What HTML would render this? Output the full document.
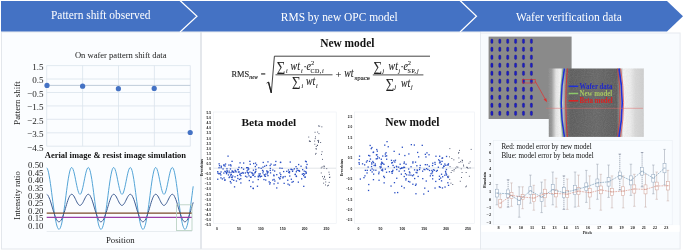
<!DOCTYPE html>
<html lang="en"><head><meta charset="utf-8"><title>OPC model verification flow</title>
<style>html,body{margin:0;padding:0;background:#fff;}body{width:685px;height:251px;overflow:hidden;}svg{display:block;}</style>
</head><body>
<svg width="685" height="251" viewBox="0 0 685 251">
<rect x="0" y="0" width="685" height="251" fill="#ffffff"/>
<rect x="1.5" y="32" width="199" height="217" fill="#fbfdff" stroke="#e3e7ec" stroke-width="1"/>
<rect x="201.5" y="32" width="279" height="217" fill="#ffffff" stroke="#e6e9ee" stroke-width="1"/>
<rect x="480.5" y="33" width="199.6" height="216" fill="#f8fbfe" stroke="#e6eaef" stroke-width="1"/>
<rect x="200.3" y="32" width="1.5" height="217" fill="#e4e7eb"/>
<polygon points="1,1 667,1 683,16.2 667,31.5 1,31.5" fill="#4472c4"/>
<polyline points="180,0.5 197,16.2 180,32" fill="none" stroke="#ffffff" stroke-width="1.2"/>
<polyline points="460,0.5 476.5,16.2 460,32" fill="none" stroke="#ffffff" stroke-width="1.2"/>
<text x="100.8" y="18.7" font-family="Liberation Serif, serif" font-size="11.43" fill="#ffffff" text-anchor="middle">Pattern shift observed</text>
<text x="339.3" y="20.6" font-family="Liberation Serif, serif" font-size="11.45" fill="#ffffff" text-anchor="middle">RMS by new OPC model</text>
<text x="568.9" y="20.7" font-family="Liberation Serif, serif" font-size="11.5" fill="#ffffff" text-anchor="middle">Wafer verification data</text>
<text x="120.7" y="58.0" font-family="Liberation Serif, serif" font-size="8.55" fill="#222" text-anchor="middle">On wafer pattern shift data</text>
<line x1="46.7" y1="65.6" x2="190.3" y2="65.6" stroke="#dbe3ec" stroke-width="0.8"/>
<line x1="46.7" y1="79.0" x2="190.3" y2="79.0" stroke="#dbe3ec" stroke-width="0.8"/>
<line x1="46.7" y1="92.5" x2="190.3" y2="92.5" stroke="#dbe3ec" stroke-width="0.8"/>
<line x1="46.7" y1="105.9" x2="190.3" y2="105.9" stroke="#dbe3ec" stroke-width="0.8"/>
<line x1="46.7" y1="119.3" x2="190.3" y2="119.3" stroke="#dbe3ec" stroke-width="0.8"/>
<line x1="46.7" y1="132.8" x2="190.3" y2="132.8" stroke="#dbe3ec" stroke-width="0.8"/>
<line x1="46.7" y1="146.2" x2="190.3" y2="146.2" stroke="#dbe3ec" stroke-width="0.8"/>
<line x1="46.7" y1="65.6" x2="46.7" y2="146.2" stroke="#dbe3ec" stroke-width="0.8"/>
<line x1="82.6" y1="65.6" x2="82.6" y2="146.2" stroke="#dbe3ec" stroke-width="0.8"/>
<line x1="118.5" y1="65.6" x2="118.5" y2="146.2" stroke="#dbe3ec" stroke-width="0.8"/>
<line x1="154.4" y1="65.6" x2="154.4" y2="146.2" stroke="#dbe3ec" stroke-width="0.8"/>
<line x1="190.3" y1="65.6" x2="190.3" y2="146.2" stroke="#dbe3ec" stroke-width="0.8"/>
<line x1="46.7" y1="85.4" x2="190.3" y2="85.4" stroke="#b9c6d6" stroke-width="0.9"/>
<text x="43.5" y="69.8" font-family="Liberation Serif, serif" font-size="9.1" fill="#222" text-anchor="end">1.5</text>
<text x="43.5" y="83.3" font-family="Liberation Serif, serif" font-size="9.1" fill="#222" text-anchor="end">0.5</text>
<text x="43.5" y="96.7" font-family="Liberation Serif, serif" font-size="9.1" fill="#222" text-anchor="end">−0.5</text>
<text x="43.5" y="110.2" font-family="Liberation Serif, serif" font-size="9.1" fill="#222" text-anchor="end">−1.5</text>
<text x="43.5" y="123.6" font-family="Liberation Serif, serif" font-size="9.1" fill="#222" text-anchor="end">−2.5</text>
<text x="43.5" y="137.1" font-family="Liberation Serif, serif" font-size="9.1" fill="#222" text-anchor="end">−3.5</text>
<text x="43.5" y="150.5" font-family="Liberation Serif, serif" font-size="9.1" fill="#222" text-anchor="end">−4.5</text>
<text transform="translate(20.4,103) rotate(-90)" font-family="Liberation Serif, serif" font-size="9" fill="#222" text-anchor="middle">Pattern shift</text>
<circle cx="47" cy="85.4" r="2.6" fill="#4472c4"/>
<circle cx="82.6" cy="86.2" r="2.6" fill="#4472c4"/>
<circle cx="118.4" cy="88.7" r="2.6" fill="#4472c4"/>
<circle cx="154.2" cy="88.4" r="2.6" fill="#4472c4"/>
<circle cx="190.2" cy="132.5" r="2.6" fill="#4472c4"/>
<text x="44.8" y="158.4" font-family="Liberation Serif, serif" font-size="8.5" font-weight="bold" fill="#111">Aerial image &amp; resist image simulation</text>
<text x="43.5" y="168.2" font-family="Liberation Serif, serif" font-size="8.8" fill="#222" text-anchor="end">0.50</text>
<text x="43.5" y="175.8" font-family="Liberation Serif, serif" font-size="8.8" fill="#222" text-anchor="end">0.45</text>
<text x="43.5" y="183.4" font-family="Liberation Serif, serif" font-size="8.8" fill="#222" text-anchor="end">0.40</text>
<text x="43.5" y="191.0" font-family="Liberation Serif, serif" font-size="8.8" fill="#222" text-anchor="end">0.35</text>
<text x="43.5" y="198.6" font-family="Liberation Serif, serif" font-size="8.8" fill="#222" text-anchor="end">0.30</text>
<text x="43.5" y="206.2" font-family="Liberation Serif, serif" font-size="8.8" fill="#222" text-anchor="end">0.25</text>
<text x="43.5" y="213.8" font-family="Liberation Serif, serif" font-size="8.8" fill="#222" text-anchor="end">0.20</text>
<text x="43.5" y="221.4" font-family="Liberation Serif, serif" font-size="8.8" fill="#222" text-anchor="end">0.15</text>
<text x="43.5" y="229.0" font-family="Liberation Serif, serif" font-size="8.8" fill="#222" text-anchor="end">0.10</text>
<text transform="translate(19.8,195.4) rotate(-90)" font-family="Liberation Serif, serif" font-size="8.7" fill="#222" text-anchor="middle">Intensity ratio</text>
<text x="120.3" y="242.8" font-family="Liberation Serif, serif" font-size="8.8" fill="#222" text-anchor="middle">Position</text>
<line x1="46.7" y1="231.5" x2="192" y2="231.5" stroke="#e3e8ee" stroke-width="0.8"/>
<polyline points="46.8,167.8 47.4,168.7 48.0,170.5 48.6,172.8 49.2,175.9 49.8,179.4 50.4,183.4 51.0,187.7 51.6,192.3 52.2,196.9 52.8,201.5 53.4,206.0 54.0,210.3 54.6,214.3 55.2,218.0 55.8,221.2 56.4,223.9 57.0,226.1 57.6,227.7 58.2,228.8 58.8,229.3 59.4,229.2 60.0,228.5 60.6,227.2 61.2,225.4 61.8,223.0 62.4,220.1 63.0,216.8 63.6,213.0 64.2,208.9 64.8,204.6 65.4,200.0 66.0,195.3 66.6,190.7 67.2,186.3 67.8,182.0 68.4,178.2 69.0,174.8 69.6,172.0 70.2,169.8 70.8,168.3 71.4,167.6 72.0,167.6 72.6,168.3 73.2,169.7 73.8,171.6 74.4,174.0 75.0,176.8 75.6,179.8 76.2,182.8 76.8,185.7 77.4,188.4 78.0,190.7 78.6,192.5 79.2,193.7 79.8,194.3 80.4,194.1 81.0,193.4 81.6,192.0 82.2,190.0 82.8,187.5 83.4,184.8 84.0,181.8 84.6,178.8 85.2,175.9 85.8,173.2 86.4,170.9 87.0,169.2 87.6,168.0 88.2,167.5 88.8,167.8 89.4,168.7 90.0,170.5 90.6,172.8 91.2,175.9 91.8,179.4 92.4,183.4 93.0,187.7 93.6,192.3 94.2,196.9 94.8,201.5 95.4,206.0 96.0,210.3 96.6,214.3 97.2,218.0 97.8,221.2 98.4,223.9 99.0,226.1 99.6,227.7 100.2,228.8 100.8,229.3 101.4,229.2 102.0,228.5 102.6,227.2 103.2,225.4 103.8,223.0 104.4,220.1 105.0,216.8 105.6,213.0 106.2,208.9 106.8,204.6 107.4,200.0 108.0,195.4 108.6,190.7 109.2,186.3 109.8,182.0 110.4,178.2 111.0,174.8 111.6,172.0 112.2,169.8 112.8,168.3 113.4,167.6 114.0,167.6 114.6,168.3 115.2,169.7 115.8,171.6 116.4,174.0 117.0,176.8 117.6,179.8 118.2,182.8 118.8,185.7 119.4,188.4 120.0,190.7 120.6,192.5 121.2,193.7 121.8,194.3 122.4,194.1 123.0,193.4 123.6,192.0 124.2,190.0 124.8,187.5 125.4,184.8 126.0,181.8 126.6,178.8 127.2,175.9 127.8,173.2 128.4,170.9 129.0,169.2 129.6,168.0 130.2,167.5 130.8,167.8 131.4,168.7 132.0,170.5 132.6,172.8 133.2,175.9 133.8,179.4 134.4,183.4 135.0,187.7 135.6,192.3 136.2,196.9 136.8,201.5 137.4,206.0 138.0,210.3 138.6,214.3 139.2,218.0 139.8,221.2 140.4,223.9 141.0,226.1 141.6,227.7 142.2,228.8 142.8,229.3 143.4,229.2 144.0,228.5 144.6,227.2 145.2,225.4 145.8,223.0 146.4,220.1 147.0,216.8 147.6,213.0 148.2,208.9 148.8,204.6 149.4,200.0 150.0,195.4 150.6,190.7 151.2,186.3 151.8,182.0 152.4,178.2 153.0,174.8 153.6,172.0 154.2,169.8 154.8,168.3 155.4,167.6 156.0,167.6 156.6,168.3 157.2,169.7 157.8,171.6 158.4,174.0 159.0,176.8 159.6,179.8 160.2,182.8 160.8,185.7 161.4,188.4 162.0,190.7 162.6,192.5 163.2,193.7 163.8,194.3 164.4,194.1 165.0,193.4 165.6,192.0 166.2,190.0 166.8,187.5 167.4,184.8 168.0,181.8 168.6,178.8 169.2,175.9 169.8,173.2 170.4,170.9 171.0,169.2 171.6,168.0 172.2,167.5 172.8,167.8 173.4,168.7 174.0,170.5 174.6,172.8 175.2,175.9 175.8,179.4 176.4,183.4 177.0,187.7 177.6,192.3 178.2,196.9 178.8,201.5 179.4,206.0 180.0,210.3 180.6,214.3 181.2,218.0 181.8,221.2 182.4,223.9 183.0,226.1 183.6,227.7 184.2,228.8 184.8,229.3 185.4,229.2 186.0,228.5 186.6,227.2 187.2,225.4 187.8,223.0 188.4,220.1 189.0,216.8 189.6,213.0 190.2,208.9 190.8,204.6 191.4,200.0 192.0,195.4 192.6,190.7 193.2,186.3" fill="none" stroke="#4b9fd4" stroke-width="0.95"/>
<polyline points="46.8,194.4 47.4,194.8 48.0,195.5 48.6,196.6 49.2,197.9 49.8,199.4 50.4,201.1 51.0,203.0 51.6,205.0 52.2,207.1 52.8,209.1 53.4,211.2 54.0,213.1 54.6,214.9 55.2,216.6 55.8,218.0 56.4,219.3 57.0,220.3 57.6,221.1 58.2,221.6 58.8,221.8 59.4,221.7 60.0,221.4 60.6,220.8 61.2,220.0 61.8,218.9 62.4,217.6 63.0,216.0 63.6,214.3 64.2,212.5 64.8,210.5 65.4,208.5 66.0,206.4 66.6,204.4 67.2,202.4 67.8,200.5 68.4,198.9 69.0,197.4 69.6,196.2 70.2,195.3 70.8,194.6 71.4,194.3 72.0,194.3 72.6,194.6 73.2,195.2 73.8,196.0 74.4,197.0 75.0,198.2 75.6,199.4 76.2,200.7 76.8,201.9 77.4,203.0 78.0,203.9 78.6,204.7 79.2,205.2 79.8,205.4 80.4,205.3 81.0,205.0 81.6,204.4 82.2,203.6 82.8,202.6 83.4,201.5 84.0,200.2 84.6,199.0 85.2,197.8 85.8,196.7 86.4,195.7 87.0,195.0 87.6,194.5 88.2,194.3 88.8,194.4 89.4,194.8 90.0,195.5 90.6,196.6 91.2,197.9 91.8,199.4 92.4,201.1 93.0,203.0 93.6,205.0 94.2,207.1 94.8,209.1 95.4,211.2 96.0,213.1 96.6,214.9 97.2,216.6 97.8,218.0 98.4,219.3 99.0,220.3 99.6,221.1 100.2,221.6 100.8,221.8 101.4,221.7 102.0,221.4 102.6,220.8 103.2,220.0 103.8,218.9 104.4,217.6 105.0,216.0 105.6,214.3 106.2,212.5 106.8,210.5 107.4,208.5 108.0,206.4 108.6,204.4 109.2,202.4 109.8,200.5 110.4,198.9 111.0,197.4 111.6,196.2 112.2,195.3 112.8,194.6 113.4,194.3 114.0,194.3 114.6,194.6 115.2,195.2 115.8,196.0 116.4,197.0 117.0,198.2 117.6,199.4 118.2,200.7 118.8,201.9 119.4,203.0 120.0,203.9 120.6,204.7 121.2,205.2 121.8,205.4 122.4,205.3 123.0,205.0 123.6,204.4 124.2,203.6 124.8,202.6 125.4,201.5 126.0,200.2 126.6,199.0 127.2,197.8 127.8,196.7 128.4,195.7 129.0,195.0 129.6,194.5 130.2,194.3 130.8,194.4 131.4,194.8 132.0,195.5 132.6,196.6 133.2,197.9 133.8,199.4 134.4,201.1 135.0,203.0 135.6,205.0 136.2,207.1 136.8,209.1 137.4,211.2 138.0,213.1 138.6,214.9 139.2,216.6 139.8,218.0 140.4,219.3 141.0,220.3 141.6,221.1 142.2,221.6 142.8,221.8 143.4,221.7 144.0,221.4 144.6,220.8 145.2,220.0 145.8,218.9 146.4,217.6 147.0,216.0 147.6,214.3 148.2,212.5 148.8,210.5 149.4,208.5 150.0,206.4 150.6,204.4 151.2,202.4 151.8,200.5 152.4,198.9 153.0,197.4 153.6,196.2 154.2,195.3 154.8,194.6 155.4,194.3 156.0,194.3 156.6,194.6 157.2,195.2 157.8,196.0 158.4,197.0 159.0,198.2 159.6,199.4 160.2,200.7 160.8,201.9 161.4,203.0 162.0,203.9 162.6,204.7 163.2,205.2 163.8,205.4 164.4,205.3 165.0,205.0 165.6,204.4 166.2,203.6 166.8,202.6 167.4,201.5 168.0,200.2 168.6,199.0 169.2,197.8 169.8,196.7 170.4,195.7 171.0,195.0 171.6,194.5 172.2,194.3 172.8,194.4 173.4,194.8 174.0,195.5 174.6,196.6 175.2,197.9 175.8,199.4 176.4,201.1 177.0,203.0 177.6,205.0 178.2,207.1 178.8,209.1 179.4,211.2 180.0,213.1 180.6,214.9 181.2,216.6 181.8,218.0 182.4,219.3 183.0,220.3 183.6,221.1 184.2,221.6 184.8,221.8 185.4,221.7 186.0,221.4 186.6,220.8 187.2,220.0 187.8,218.9 188.4,217.6 189.0,216.0 189.6,214.3 190.2,212.5 190.8,210.5 191.4,208.5 192.0,206.4 192.6,204.4 193.2,202.4" fill="none" stroke="#35548c" stroke-width="0.95"/>
<line x1="46.7" y1="213.2" x2="192" y2="213.2" stroke="#7a4a2a" stroke-width="1.3"/>
<line x1="46.7" y1="217.4" x2="192" y2="217.4" stroke="#9a3fa6" stroke-width="1.3"/>
<rect x="176.4" y="204.8" width="15.6" height="25.6" fill="none" stroke="#b5cdbf" stroke-width="0.8"/>
<text x="347.3" y="46.6" font-family="Liberation Serif, serif" font-size="11.45" font-weight="bold" fill="#111" text-anchor="middle">New model</text>
<text transform="translate(231.5,77.0) scale(1.0,1)" font-family="Liberation Serif, serif" font-size="8.4" fill="#222" stroke="#222" stroke-width="0.12">RMS</text>
<text x="249.3" y="78.9" font-family="Liberation Serif, serif" font-size="5.2" font-style="italic" font-weight="bold" fill="#222">new</text>
<text transform="translate(260.8,77.2) scale(1.0,1)" font-family="Liberation Serif, serif" font-size="8.6" fill="#222" stroke="#222" stroke-width="0.12">=</text>
<polyline points="266.6,83.2 268.5,82.0 271.3,93.0 274.4,56.2 430,56.2" fill="none" stroke="#222" stroke-width="0.85"/><line x1="268.5" y1="82.2" x2="271.2" y2="92.6" stroke="#222" stroke-width="1.3"/>
<line x1="275.5" y1="74.8" x2="332.5" y2="74.8" stroke="#222" stroke-width="0.8"/>
<text transform="translate(276.6,71.1) scale(0.88,1)" font-family="Liberation Serif, serif" font-size="13.6" fill="#222" stroke="#222" stroke-width="0.12">∑</text>
<text transform="translate(286.0,72.7) scale(1.0,1)" font-family="Liberation Serif, serif" font-size="5.6" font-style="italic" fill="#222" stroke="#222" stroke-width="0.12">i</text>
<text transform="translate(290.6,70.3) scale(0.78,1)" font-family="Liberation Serif, serif" font-size="12.6" font-style="italic" fill="#222" stroke="#222" stroke-width="0.12">wt</text>
<text transform="translate(300.9,72.7) scale(1.0,1)" font-family="Liberation Serif, serif" font-size="5.6" font-style="italic" fill="#222" stroke="#222" stroke-width="0.12">i</text>
<text transform="translate(303.3,70.1) scale(1.0,1)" font-family="Liberation Serif, serif" font-size="11" fill="#222" stroke="#222" stroke-width="0.12">·</text>
<text transform="translate(306.4,70.3) scale(0.8,1)" font-family="Liberation Serif, serif" font-size="12.6" font-style="italic" fill="#222" stroke="#222" stroke-width="0.12">e</text>
<text transform="translate(311.2,64.9) scale(1.0,1)" font-family="Liberation Serif, serif" font-size="5.8" fill="#222" stroke="#222" stroke-width="0.12">2</text>
<text x="310.4" y="72.9" font-family="Liberation Serif, serif" font-size="6" fill="#222" stroke="#222" stroke-width="0.1" letter-spacing="0.5">CD,<tspan font-style="italic" dx="0.3">i</tspan></text>
<text transform="translate(291.8,86.1) scale(0.88,1)" font-family="Liberation Serif, serif" font-size="13.6" fill="#222" stroke="#222" stroke-width="0.12">∑</text>
<text transform="translate(301.4,87.7) scale(1.0,1)" font-family="Liberation Serif, serif" font-size="5.6" font-style="italic" fill="#222" stroke="#222" stroke-width="0.12">i</text>
<text transform="translate(306.0,85.3) scale(0.78,1)" font-family="Liberation Serif, serif" font-size="12.6" font-style="italic" fill="#222" stroke="#222" stroke-width="0.12">wt</text>
<text transform="translate(316.0,87.7) scale(1.0,1)" font-family="Liberation Serif, serif" font-size="5.6" font-style="italic" fill="#222" stroke="#222" stroke-width="0.12">i</text>
<text transform="translate(335.6,78.2) scale(1.0,1)" font-family="Liberation Serif, serif" font-size="10.4" fill="#222" stroke="#222" stroke-width="0.12">+</text>
<text transform="translate(344.3,76.9) scale(0.78,1)" font-family="Liberation Serif, serif" font-size="12.6" font-style="italic" fill="#222" stroke="#222" stroke-width="0.12">wt</text>
<text transform="translate(354.6,79.6) scale(1.0,1)" font-family="Liberation Serif, serif" font-size="6.9" fill="#222" stroke="#222" stroke-width="0.12">space</text>
<line x1="372.8" y1="74.9" x2="423.4" y2="74.9" stroke="#222" stroke-width="0.8"/>
<text transform="translate(373.3,71.1) scale(0.88,1)" font-family="Liberation Serif, serif" font-size="13.6" fill="#222" stroke="#222" stroke-width="0.12">∑</text>
<text transform="translate(382.6,72.7) scale(1.0,1)" font-family="Liberation Serif, serif" font-size="5.6" font-style="italic" fill="#222" stroke="#222" stroke-width="0.12">j</text>
<text transform="translate(388.6,70.3) scale(0.78,1)" font-family="Liberation Serif, serif" font-size="12.6" font-style="italic" fill="#222" stroke="#222" stroke-width="0.12">wt</text>
<text transform="translate(398.5,72.7) scale(1.0,1)" font-family="Liberation Serif, serif" font-size="5.6" font-style="italic" fill="#222" stroke="#222" stroke-width="0.12">j</text>
<text transform="translate(400.3,70.1) scale(1.0,1)" font-family="Liberation Serif, serif" font-size="11" fill="#222" stroke="#222" stroke-width="0.12">·</text>
<text transform="translate(403.6,70.3) scale(0.8,1)" font-family="Liberation Serif, serif" font-size="12.6" font-style="italic" fill="#222" stroke="#222" stroke-width="0.12">e</text>
<text transform="translate(408.0,64.9) scale(1.0,1)" font-family="Liberation Serif, serif" font-size="5.8" fill="#222" stroke="#222" stroke-width="0.12">2</text>
<text x="407.6" y="72.9" font-family="Liberation Serif, serif" font-size="6" fill="#222" stroke="#222" stroke-width="0.1" letter-spacing="0.5">SP,<tspan font-style="italic" dx="0.3">j</tspan></text>
<text transform="translate(385.4,87.8) scale(0.88,1)" font-family="Liberation Serif, serif" font-size="13.6" fill="#222" stroke="#222" stroke-width="0.12">∑</text>
<text transform="translate(394.5,89.4) scale(1.0,1)" font-family="Liberation Serif, serif" font-size="5.6" font-style="italic" fill="#222" stroke="#222" stroke-width="0.12">j</text>
<text transform="translate(400.9,87.0) scale(0.78,1)" font-family="Liberation Serif, serif" font-size="12.6" font-style="italic" fill="#222" stroke="#222" stroke-width="0.12">wt</text>
<text transform="translate(410.9,89.4) scale(1.0,1)" font-family="Liberation Serif, serif" font-size="5.6" font-style="italic" fill="#222" stroke="#222" stroke-width="0.12">j</text>
<rect x="213.6" y="112" width="122.6" height="111.4" fill="#ffffff" stroke="#eceff3" stroke-width="0.6"/>
<line x1="213.6" y1="168.2" x2="336" y2="168.2" stroke="#cfd4da" stroke-width="0.6"/>
<text x="211.0" y="114.11" font-family="Liberation Sans, sans-serif" font-size="3.2" font-weight="bold" fill="#222" text-anchor="end">5.5</text>
<text x="211.0" y="119.19999999999999" font-family="Liberation Sans, sans-serif" font-size="3.2" font-weight="bold" fill="#222" text-anchor="end">5.0</text>
<text x="211.0" y="124.28999999999999" font-family="Liberation Sans, sans-serif" font-size="3.2" font-weight="bold" fill="#222" text-anchor="end">4.5</text>
<text x="211.0" y="129.38" font-family="Liberation Sans, sans-serif" font-size="3.2" font-weight="bold" fill="#222" text-anchor="end">4.0</text>
<text x="211.0" y="134.47" font-family="Liberation Sans, sans-serif" font-size="3.2" font-weight="bold" fill="#222" text-anchor="end">3.5</text>
<text x="211.0" y="139.56" font-family="Liberation Sans, sans-serif" font-size="3.2" font-weight="bold" fill="#222" text-anchor="end">3.0</text>
<text x="211.0" y="144.65" font-family="Liberation Sans, sans-serif" font-size="3.2" font-weight="bold" fill="#222" text-anchor="end">2.5</text>
<text x="211.0" y="149.73999999999998" font-family="Liberation Sans, sans-serif" font-size="3.2" font-weight="bold" fill="#222" text-anchor="end">2.0</text>
<text x="211.0" y="154.82999999999998" font-family="Liberation Sans, sans-serif" font-size="3.2" font-weight="bold" fill="#222" text-anchor="end">1.5</text>
<text x="211.0" y="159.92" font-family="Liberation Sans, sans-serif" font-size="3.2" font-weight="bold" fill="#222" text-anchor="end">1.0</text>
<text x="211.0" y="165.01" font-family="Liberation Sans, sans-serif" font-size="3.2" font-weight="bold" fill="#222" text-anchor="end">0.5</text>
<text x="211.0" y="170.1" font-family="Liberation Sans, sans-serif" font-size="3.2" font-weight="bold" fill="#222" text-anchor="end">0</text>
<text x="211.0" y="175.19" font-family="Liberation Sans, sans-serif" font-size="3.2" font-weight="bold" fill="#222" text-anchor="end">−0.5</text>
<text x="211.0" y="180.28" font-family="Liberation Sans, sans-serif" font-size="3.2" font-weight="bold" fill="#222" text-anchor="end">−1.0</text>
<text x="211.0" y="185.37" font-family="Liberation Sans, sans-serif" font-size="3.2" font-weight="bold" fill="#222" text-anchor="end">−1.5</text>
<text x="211.0" y="190.46" font-family="Liberation Sans, sans-serif" font-size="3.2" font-weight="bold" fill="#222" text-anchor="end">−2.0</text>
<text x="211.0" y="195.54999999999998" font-family="Liberation Sans, sans-serif" font-size="3.2" font-weight="bold" fill="#222" text-anchor="end">−2.5</text>
<text x="211.0" y="200.64" font-family="Liberation Sans, sans-serif" font-size="3.2" font-weight="bold" fill="#222" text-anchor="end">−3.0</text>
<text x="211.0" y="205.73" font-family="Liberation Sans, sans-serif" font-size="3.2" font-weight="bold" fill="#222" text-anchor="end">−3.5</text>
<text x="211.0" y="210.82" font-family="Liberation Sans, sans-serif" font-size="3.2" font-weight="bold" fill="#222" text-anchor="end">−4.0</text>
<text x="211.0" y="215.91" font-family="Liberation Sans, sans-serif" font-size="3.2" font-weight="bold" fill="#222" text-anchor="end">−4.5</text>
<text x="211.0" y="221.0" font-family="Liberation Sans, sans-serif" font-size="3.2" font-weight="bold" fill="#222" text-anchor="end">−5.0</text>
<text x="211.0" y="226.09" font-family="Liberation Sans, sans-serif" font-size="3.2" font-weight="bold" fill="#222" text-anchor="end">−5.5</text>
<text x="217.0" y="229.6" font-family="Liberation Sans, sans-serif" font-size="3.5" font-weight="bold" fill="#222" text-anchor="middle">0</text>
<text x="238.9" y="229.6" font-family="Liberation Sans, sans-serif" font-size="3.5" font-weight="bold" fill="#222" text-anchor="middle">50</text>
<text x="260.8" y="229.6" font-family="Liberation Sans, sans-serif" font-size="3.5" font-weight="bold" fill="#222" text-anchor="middle">100</text>
<text x="282.7" y="229.6" font-family="Liberation Sans, sans-serif" font-size="3.5" font-weight="bold" fill="#222" text-anchor="middle">150</text>
<text x="304.6" y="229.6" font-family="Liberation Sans, sans-serif" font-size="3.5" font-weight="bold" fill="#222" text-anchor="middle">200</text>
<text x="326.5" y="229.6" font-family="Liberation Sans, sans-serif" font-size="3.5" font-weight="bold" fill="#222" text-anchor="middle">250</text>
<text transform="translate(202.9,167.6) rotate(-90)" font-family="Liberation Sans, sans-serif" font-size="3.9" font-weight="bold" fill="#222" text-anchor="middle">Errorbias</text>
<text x="268.8" y="125.5" font-family="Liberation Serif, serif" font-size="11.4" font-weight="bold" fill="#111" text-anchor="middle">Beta model</text>
<rect x="246.0" y="167.0" width="1.3" height="1.3" fill="#2a4fc4"/>
<rect x="223.3" y="164.9" width="1.3" height="1.3" fill="#2a4fc4"/>
<rect x="265.1" y="173.5" width="1.3" height="1.3" fill="#2a4fc4"/>
<rect x="262.6" y="170.6" width="1.3" height="1.3" fill="#2a4fc4"/>
<rect x="220.2" y="174.3" width="1.3" height="1.3" fill="#2a4fc4"/>
<rect x="225.0" y="171.2" width="1.3" height="1.3" fill="#2a4fc4"/>
<rect x="255.1" y="170.7" width="1.3" height="1.3" fill="#2a4fc4"/>
<rect x="236.9" y="174.9" width="1.3" height="1.3" fill="#2a4fc4"/>
<rect x="273.4" y="164.5" width="1.3" height="1.3" fill="#2a4fc4"/>
<rect x="252.6" y="174.7" width="1.3" height="1.3" fill="#2a4fc4"/>
<rect x="304.9" y="160.6" width="1.3" height="1.3" fill="#2a4fc4"/>
<rect x="242.9" y="168.6" width="1.3" height="1.3" fill="#2a4fc4"/>
<rect x="229.8" y="168.3" width="1.3" height="1.3" fill="#2a4fc4"/>
<rect x="290.4" y="168.6" width="1.3" height="1.3" fill="#2a4fc4"/>
<rect x="233.1" y="179.7" width="1.3" height="1.3" fill="#2a4fc4"/>
<rect x="250.4" y="176.4" width="1.3" height="1.3" fill="#2a4fc4"/>
<rect x="266.2" y="170.2" width="1.3" height="1.3" fill="#2a4fc4"/>
<rect x="235.4" y="171.3" width="1.3" height="1.3" fill="#2a4fc4"/>
<rect x="278.2" y="176.9" width="1.3" height="1.3" fill="#2a4fc4"/>
<rect x="269.6" y="169.8" width="1.3" height="1.3" fill="#2a4fc4"/>
<rect x="257.7" y="175.5" width="1.3" height="1.3" fill="#2a4fc4"/>
<rect x="279.9" y="161.8" width="1.3" height="1.3" fill="#2a4fc4"/>
<rect x="238.8" y="178.8" width="1.3" height="1.3" fill="#2a4fc4"/>
<rect x="295.7" y="175.5" width="1.3" height="1.3" fill="#2a4fc4"/>
<rect x="282.6" y="176.2" width="1.3" height="1.3" fill="#2a4fc4"/>
<rect x="227.4" y="155.5" width="1.3" height="1.3" fill="#2a4fc4"/>
<rect x="254.5" y="172.0" width="1.3" height="1.3" fill="#2a4fc4"/>
<rect x="260.9" y="175.6" width="1.3" height="1.3" fill="#2a4fc4"/>
<rect x="220.3" y="177.2" width="1.3" height="1.3" fill="#2a4fc4"/>
<rect x="268.5" y="181.2" width="1.3" height="1.3" fill="#2a4fc4"/>
<rect x="295.8" y="175.8" width="1.3" height="1.3" fill="#2a4fc4"/>
<rect x="270.4" y="163.5" width="1.3" height="1.3" fill="#2a4fc4"/>
<rect x="269.1" y="183.4" width="1.3" height="1.3" fill="#2a4fc4"/>
<rect x="302.0" y="169.0" width="1.3" height="1.3" fill="#2a4fc4"/>
<rect x="259.6" y="173.2" width="1.3" height="1.3" fill="#2a4fc4"/>
<rect x="280.1" y="174.0" width="1.3" height="1.3" fill="#2a4fc4"/>
<rect x="275.2" y="160.8" width="1.3" height="1.3" fill="#2a4fc4"/>
<rect x="242.5" y="172.6" width="1.3" height="1.3" fill="#2a4fc4"/>
<rect x="251.6" y="172.8" width="1.3" height="1.3" fill="#2a4fc4"/>
<rect x="258.4" y="173.3" width="1.3" height="1.3" fill="#2a4fc4"/>
<rect x="232.0" y="170.6" width="1.3" height="1.3" fill="#2a4fc4"/>
<rect x="286.1" y="170.7" width="1.3" height="1.3" fill="#2a4fc4"/>
<rect x="228.5" y="172.0" width="1.3" height="1.3" fill="#2a4fc4"/>
<rect x="295.4" y="166.0" width="1.3" height="1.3" fill="#2a4fc4"/>
<rect x="224.1" y="179.5" width="1.3" height="1.3" fill="#2a4fc4"/>
<rect x="296.5" y="169.7" width="1.3" height="1.3" fill="#2a4fc4"/>
<rect x="290.7" y="168.9" width="1.3" height="1.3" fill="#2a4fc4"/>
<rect x="254.3" y="175.9" width="1.3" height="1.3" fill="#2a4fc4"/>
<rect x="249.2" y="160.7" width="1.3" height="1.3" fill="#2a4fc4"/>
<rect x="230.4" y="182.3" width="1.3" height="1.3" fill="#2a4fc4"/>
<rect x="232.7" y="171.6" width="1.3" height="1.3" fill="#2a4fc4"/>
<rect x="260.5" y="167.7" width="1.3" height="1.3" fill="#2a4fc4"/>
<rect x="269.9" y="172.2" width="1.3" height="1.3" fill="#2a4fc4"/>
<rect x="254.6" y="171.6" width="1.3" height="1.3" fill="#2a4fc4"/>
<rect x="250.1" y="185.9" width="1.3" height="1.3" fill="#2a4fc4"/>
<rect x="279.1" y="178.2" width="1.3" height="1.3" fill="#2a4fc4"/>
<rect x="263.3" y="178.9" width="1.3" height="1.3" fill="#2a4fc4"/>
<rect x="221.7" y="178.3" width="1.3" height="1.3" fill="#2a4fc4"/>
<rect x="298.0" y="169.8" width="1.3" height="1.3" fill="#2a4fc4"/>
<rect x="288.8" y="184.4" width="1.3" height="1.3" fill="#2a4fc4"/>
<rect x="252.2" y="174.4" width="1.3" height="1.3" fill="#2a4fc4"/>
<rect x="274.0" y="170.4" width="1.3" height="1.3" fill="#2a4fc4"/>
<rect x="222.4" y="168.3" width="1.3" height="1.3" fill="#2a4fc4"/>
<rect x="231.4" y="170.4" width="1.3" height="1.3" fill="#2a4fc4"/>
<rect x="247.5" y="172.0" width="1.3" height="1.3" fill="#2a4fc4"/>
<rect x="230.4" y="172.1" width="1.3" height="1.3" fill="#2a4fc4"/>
<rect x="225.9" y="173.0" width="1.3" height="1.3" fill="#2a4fc4"/>
<rect x="295.7" y="171.1" width="1.3" height="1.3" fill="#2a4fc4"/>
<rect x="272.2" y="169.4" width="1.3" height="1.3" fill="#2a4fc4"/>
<rect x="248.1" y="168.4" width="1.3" height="1.3" fill="#2a4fc4"/>
<rect x="249.6" y="163.6" width="1.3" height="1.3" fill="#2a4fc4"/>
<rect x="306.4" y="163.8" width="1.3" height="1.3" fill="#2a4fc4"/>
<rect x="258.8" y="174.7" width="1.3" height="1.3" fill="#2a4fc4"/>
<rect x="226.0" y="171.9" width="1.3" height="1.3" fill="#2a4fc4"/>
<rect x="247.7" y="173.2" width="1.3" height="1.3" fill="#2a4fc4"/>
<rect x="231.4" y="160.7" width="1.3" height="1.3" fill="#2a4fc4"/>
<rect x="218.9" y="165.0" width="1.3" height="1.3" fill="#2a4fc4"/>
<rect x="230.0" y="174.4" width="1.3" height="1.3" fill="#2a4fc4"/>
<rect x="265.8" y="164.8" width="1.3" height="1.3" fill="#2a4fc4"/>
<rect x="305.1" y="170.9" width="1.3" height="1.3" fill="#2a4fc4"/>
<rect x="294.7" y="173.7" width="1.3" height="1.3" fill="#2a4fc4"/>
<rect x="249.9" y="176.6" width="1.3" height="1.3" fill="#2a4fc4"/>
<rect x="231.9" y="171.1" width="1.3" height="1.3" fill="#2a4fc4"/>
<rect x="287.1" y="179.6" width="1.3" height="1.3" fill="#2a4fc4"/>
<rect x="246.5" y="170.2" width="1.3" height="1.3" fill="#2a4fc4"/>
<rect x="305.7" y="161.1" width="1.3" height="1.3" fill="#2a4fc4"/>
<rect x="293.7" y="168.2" width="1.3" height="1.3" fill="#2a4fc4"/>
<rect x="283.5" y="182.7" width="1.3" height="1.3" fill="#2a4fc4"/>
<rect x="237.2" y="177.8" width="1.3" height="1.3" fill="#2a4fc4"/>
<rect x="219.4" y="172.8" width="1.3" height="1.3" fill="#2a4fc4"/>
<rect x="219.3" y="173.0" width="1.3" height="1.3" fill="#2a4fc4"/>
<rect x="279.3" y="167.5" width="1.3" height="1.3" fill="#2a4fc4"/>
<rect x="303.1" y="185.7" width="1.3" height="1.3" fill="#2a4fc4"/>
<rect x="305.9" y="167.5" width="1.3" height="1.3" fill="#2a4fc4"/>
<rect x="303.0" y="175.0" width="1.3" height="1.3" fill="#2a4fc4"/>
<rect x="237.3" y="168.9" width="1.3" height="1.3" fill="#2a4fc4"/>
<rect x="234.5" y="169.7" width="1.3" height="1.3" fill="#2a4fc4"/>
<rect x="298.0" y="163.9" width="1.3" height="1.3" fill="#2a4fc4"/>
<rect x="292.6" y="180.9" width="1.3" height="1.3" fill="#2a4fc4"/>
<rect x="288.9" y="171.0" width="1.3" height="1.3" fill="#2a4fc4"/>
<rect x="224.4" y="179.3" width="1.3" height="1.3" fill="#2a4fc4"/>
<rect x="287.4" y="183.5" width="1.3" height="1.3" fill="#2a4fc4"/>
<rect x="284.5" y="175.9" width="1.3" height="1.3" fill="#2a4fc4"/>
<rect x="288.0" y="171.6" width="1.3" height="1.3" fill="#2a4fc4"/>
<rect x="246.8" y="167.0" width="1.3" height="1.3" fill="#2a4fc4"/>
<rect x="252.5" y="187.6" width="1.3" height="1.3" fill="#2a4fc4"/>
<rect x="253.0" y="162.9" width="1.3" height="1.3" fill="#2a4fc4"/>
<rect x="232.1" y="175.4" width="1.3" height="1.3" fill="#2a4fc4"/>
<rect x="228.3" y="164.4" width="1.3" height="1.3" fill="#2a4fc4"/>
<rect x="289.6" y="161.4" width="1.3" height="1.3" fill="#2a4fc4"/>
<rect x="230.0" y="164.2" width="1.3" height="1.3" fill="#2a4fc4"/>
<rect x="276.1" y="187.3" width="1.3" height="1.3" fill="#2a4fc4"/>
<rect x="248.4" y="175.2" width="1.3" height="1.3" fill="#2a4fc4"/>
<rect x="218.1" y="173.1" width="1.3" height="1.3" fill="#2a4fc4"/>
<rect x="304.4" y="176.5" width="1.3" height="1.3" fill="#2a4fc4"/>
<rect x="301.0" y="178.2" width="1.3" height="1.3" fill="#2a4fc4"/>
<rect x="255.9" y="164.2" width="1.3" height="1.3" fill="#2a4fc4"/>
<rect x="235.8" y="180.4" width="1.3" height="1.3" fill="#2a4fc4"/>
<rect x="239.5" y="173.3" width="1.3" height="1.3" fill="#2a4fc4"/>
<rect x="269.7" y="167.8" width="1.3" height="1.3" fill="#2a4fc4"/>
<rect x="240.2" y="175.0" width="1.3" height="1.3" fill="#2a4fc4"/>
<rect x="298.9" y="170.6" width="1.3" height="1.3" fill="#2a4fc4"/>
<rect x="248.7" y="179.9" width="1.3" height="1.3" fill="#2a4fc4"/>
<rect x="298.4" y="170.0" width="1.3" height="1.3" fill="#2a4fc4"/>
<rect x="254.7" y="165.9" width="1.3" height="1.3" fill="#2a4fc4"/>
<rect x="264.8" y="175.7" width="1.3" height="1.3" fill="#2a4fc4"/>
<rect x="264.0" y="165.6" width="1.3" height="1.3" fill="#2a4fc4"/>
<rect x="233.3" y="171.4" width="1.3" height="1.3" fill="#2a4fc4"/>
<rect x="217.1" y="171.0" width="1.3" height="1.3" fill="#2a4fc4"/>
<rect x="259.5" y="175.7" width="1.3" height="1.3" fill="#2a4fc4"/>
<rect x="282.2" y="177.2" width="1.3" height="1.3" fill="#2a4fc4"/>
<rect x="263.6" y="174.0" width="1.3" height="1.3" fill="#2a4fc4"/>
<rect x="266.9" y="171.5" width="1.3" height="1.3" fill="#2a4fc4"/>
<rect x="267.3" y="175.0" width="1.3" height="1.3" fill="#2a4fc4"/>
<rect x="239.2" y="173.9" width="1.3" height="1.3" fill="#2a4fc4"/>
<rect x="262.6" y="161.8" width="1.3" height="1.3" fill="#2a4fc4"/>
<rect x="267.5" y="171.3" width="1.3" height="1.3" fill="#2a4fc4"/>
<rect x="256.8" y="185.6" width="1.3" height="1.3" fill="#2a4fc4"/>
<rect x="272.1" y="179.4" width="1.3" height="1.3" fill="#2a4fc4"/>
<rect x="279.3" y="172.4" width="1.3" height="1.3" fill="#2a4fc4"/>
<rect x="257.6" y="178.9" width="1.3" height="1.3" fill="#2a4fc4"/>
<rect x="301.7" y="173.6" width="1.3" height="1.3" fill="#2a4fc4"/>
<rect x="279.9" y="161.7" width="1.3" height="1.3" fill="#2a4fc4"/>
<rect x="240.2" y="182.3" width="1.3" height="1.3" fill="#2a4fc4"/>
<rect x="267.3" y="161.2" width="1.3" height="1.3" fill="#2a4fc4"/>
<rect x="229.2" y="176.2" width="1.3" height="1.3" fill="#2a4fc4"/>
<rect x="227.8" y="174.3" width="1.3" height="1.3" fill="#2a4fc4"/>
<rect x="238.5" y="171.3" width="1.3" height="1.3" fill="#2a4fc4"/>
<rect x="223.4" y="177.3" width="1.3" height="1.3" fill="#2a4fc4"/>
<rect x="297.7" y="181.5" width="1.3" height="1.3" fill="#2a4fc4"/>
<rect x="230.7" y="174.0" width="1.3" height="1.3" fill="#2a4fc4"/>
<rect x="229.7" y="180.9" width="1.3" height="1.3" fill="#2a4fc4"/>
<rect x="296.4" y="167.9" width="1.3" height="1.3" fill="#2a4fc4"/>
<rect x="302.7" y="173.0" width="1.3" height="1.3" fill="#2a4fc4"/>
<rect x="252.7" y="187.9" width="1.3" height="1.3" fill="#2a4fc4"/>
<rect x="291.9" y="170.7" width="1.3" height="1.3" fill="#2a4fc4"/>
<rect x="231.4" y="178.8" width="1.3" height="1.3" fill="#2a4fc4"/>
<rect x="247.4" y="169.1" width="1.3" height="1.3" fill="#2a4fc4"/>
<rect x="234.4" y="176.2" width="1.3" height="1.3" fill="#2a4fc4"/>
<rect x="218.5" y="163.2" width="1.3" height="1.3" fill="#2a4fc4"/>
<rect x="266.8" y="173.2" width="1.3" height="1.3" fill="#2a4fc4"/>
<rect x="246.7" y="171.7" width="1.3" height="1.3" fill="#2a4fc4"/>
<rect x="273.1" y="174.4" width="1.3" height="1.3" fill="#2a4fc4"/>
<rect x="305.7" y="172.3" width="1.3" height="1.3" fill="#2a4fc4"/>
<rect x="287.9" y="169.3" width="1.3" height="1.3" fill="#2a4fc4"/>
<rect x="240.7" y="172.6" width="1.3" height="1.3" fill="#2a4fc4"/>
<rect x="220.4" y="171.3" width="1.3" height="1.3" fill="#2a4fc4"/>
<rect x="228.5" y="176.9" width="1.3" height="1.3" fill="#2a4fc4"/>
<rect x="254.9" y="162.5" width="1.3" height="1.3" fill="#2a4fc4"/>
<rect x="240.1" y="178.1" width="1.3" height="1.3" fill="#2a4fc4"/>
<rect x="230.3" y="165.2" width="1.3" height="1.3" fill="#2a4fc4"/>
<rect x="280.0" y="176.0" width="1.3" height="1.3" fill="#2a4fc4"/>
<rect x="224.9" y="163.4" width="1.3" height="1.3" fill="#2a4fc4"/>
<rect x="255.2" y="168.8" width="1.3" height="1.3" fill="#2a4fc4"/>
<rect x="223.3" y="164.1" width="1.3" height="1.3" fill="#2a4fc4"/>
<rect x="289.1" y="175.4" width="1.3" height="1.3" fill="#2a4fc4"/>
<rect x="224.3" y="170.7" width="1.3" height="1.3" fill="#2a4fc4"/>
<rect x="294.6" y="173.9" width="1.3" height="1.3" fill="#2a4fc4"/>
<rect x="257.7" y="176.2" width="1.3" height="1.3" fill="#2a4fc4"/>
<rect x="300.4" y="165.6" width="1.3" height="1.3" fill="#2a4fc4"/>
<rect x="241.0" y="167.0" width="1.3" height="1.3" fill="#2a4fc4"/>
<rect x="238.3" y="166.7" width="1.3" height="1.3" fill="#2a4fc4"/>
<rect x="226.7" y="171.1" width="1.3" height="1.3" fill="#2a4fc4"/>
<rect x="235.0" y="170.5" width="1.3" height="1.3" fill="#2a4fc4"/>
<rect x="244.9" y="175.6" width="1.3" height="1.3" fill="#2a4fc4"/>
<rect x="243.0" y="162.4" width="1.3" height="1.3" fill="#2a4fc4"/>
<rect x="261.9" y="169.7" width="1.3" height="1.3" fill="#2a4fc4"/>
<rect x="218.4" y="167.1" width="1.3" height="1.3" fill="#2a4fc4"/>
<rect x="239.4" y="162.2" width="1.3" height="1.3" fill="#2a4fc4"/>
<rect x="266.5" y="171.2" width="1.3" height="1.3" fill="#2a4fc4"/>
<rect x="233.9" y="186.2" width="1.3" height="1.3" fill="#2a4fc4"/>
<rect x="226.4" y="169.9" width="1.3" height="1.3" fill="#2a4fc4"/>
<rect x="290.7" y="178.6" width="1.3" height="1.3" fill="#2a4fc4"/>
<rect x="292.1" y="169.2" width="1.3" height="1.3" fill="#2a4fc4"/>
<rect x="252.3" y="181.4" width="1.3" height="1.3" fill="#2a4fc4"/>
<rect x="305.4" y="172.5" width="1.3" height="1.3" fill="#2a4fc4"/>
<rect x="247.7" y="167.4" width="1.3" height="1.3" fill="#2a4fc4"/>
<rect x="274.2" y="180.4" width="1.3" height="1.3" fill="#2a4fc4"/>
<rect x="253.3" y="173.3" width="1.3" height="1.3" fill="#2a4fc4"/>
<rect x="228.5" y="170.5" width="1.3" height="1.3" fill="#2a4fc4"/>
<rect x="223.2" y="172.4" width="1.3" height="1.3" fill="#2a4fc4"/>
<rect x="231.5" y="176.8" width="1.3" height="1.3" fill="#2a4fc4"/>
<rect x="224.4" y="165.4" width="1.3" height="1.3" fill="#2a4fc4"/>
<rect x="277.3" y="182.5" width="1.3" height="1.3" fill="#2a4fc4"/>
<rect x="242.2" y="171.9" width="1.3" height="1.3" fill="#2a4fc4"/>
<rect x="258.2" y="167.1" width="1.3" height="1.3" fill="#2a4fc4"/>
<rect x="231.0" y="176.6" width="1.3" height="1.3" fill="#2a4fc4"/>
<rect x="303.6" y="170.5" width="1.3" height="1.3" fill="#2a4fc4"/>
<rect x="304.5" y="176.5" width="1.3" height="1.3" fill="#2a4fc4"/>
<rect x="303.9" y="173.5" width="1.3" height="1.3" fill="#2a4fc4"/>
<rect x="244.7" y="172.3" width="1.3" height="1.3" fill="#2a4fc4"/>
<rect x="251.2" y="171.9" width="1.3" height="1.3" fill="#2a4fc4"/>
<rect x="259.6" y="176.2" width="1.3" height="1.3" fill="#2a4fc4"/>
<rect x="262.3" y="172.2" width="1.3" height="1.3" fill="#2a4fc4"/>
<rect x="217.2" y="172.4" width="1.3" height="1.3" fill="#2a4fc4"/>
<rect x="252.8" y="169.5" width="1.3" height="1.3" fill="#2a4fc4"/>
<rect x="220.5" y="167.0" width="1.3" height="1.3" fill="#2a4fc4"/>
<rect x="237.8" y="171.4" width="1.3" height="1.3" fill="#2a4fc4"/>
<rect x="269.6" y="182.1" width="1.3" height="1.3" fill="#2a4fc4"/>
<rect x="276.1" y="174.0" width="1.3" height="1.3" fill="#2a4fc4"/>
<rect x="281.4" y="167.7" width="1.3" height="1.3" fill="#2a4fc4"/>
<rect x="246.2" y="176.3" width="1.3" height="1.3" fill="#2a4fc4"/>
<rect x="305.6" y="166.3" width="1.3" height="1.3" fill="#2a4fc4"/>
<rect x="274.8" y="164.2" width="1.3" height="1.3" fill="#2a4fc4"/>
<rect x="220.7" y="165.6" width="1.3" height="1.3" fill="#2a4fc4"/>
<rect x="273.4" y="183.2" width="1.3" height="1.3" fill="#2a4fc4"/>
<rect x="283.0" y="170.9" width="1.3" height="1.3" fill="#2a4fc4"/>
<rect x="264.0" y="175.2" width="1.3" height="1.3" fill="#2a4fc4"/>
<rect x="262.3" y="166.5" width="1.3" height="1.3" fill="#2a4fc4"/>
<rect x="291.4" y="181.6" width="1.3" height="1.3" fill="#2a4fc4"/>
<rect x="269.5" y="164.9" width="1.3" height="1.3" fill="#2a4fc4"/>
<rect x="279.3" y="177.9" width="1.3" height="1.3" fill="#2a4fc4"/>
<rect x="237.5" y="168.9" width="1.3" height="1.3" fill="#2a4fc4"/>
<rect x="249.3" y="171.5" width="1.3" height="1.3" fill="#2a4fc4"/>
<rect x="226.3" y="168.1" width="1.3" height="1.3" fill="#2a4fc4"/>
<rect x="273.4" y="178.8" width="1.3" height="1.3" fill="#2a4fc4"/>
<rect x="273.3" y="175.1" width="1.3" height="1.3" fill="#2a4fc4"/>
<rect x="217.1" y="178.6" width="1.3" height="1.3" fill="#2a4fc4"/>
<rect x="288.8" y="172.2" width="1.3" height="1.3" fill="#2a4fc4"/>
<rect x="265.1" y="179.4" width="1.3" height="1.3" fill="#2a4fc4"/>
<rect x="317.0" y="145.0" width="0.9" height="0.9" fill="#39415c"/>
<rect x="318.1" y="141.0" width="0.9" height="0.9" fill="#39415c"/>
<rect x="309.1" y="140.7" width="0.9" height="0.9" fill="#39415c"/>
<rect x="318.0" y="142.0" width="0.9" height="0.9" fill="#39415c"/>
<rect x="318.1" y="125.5" width="0.9" height="0.9" fill="#39415c"/>
<rect x="314.8" y="138.2" width="0.9" height="0.9" fill="#39415c"/>
<rect x="314.6" y="131.8" width="0.9" height="0.9" fill="#39415c"/>
<rect x="318.5" y="133.2" width="0.9" height="0.9" fill="#39415c"/>
<rect x="316.8" y="144.7" width="0.9" height="0.9" fill="#39415c"/>
<rect x="310.1" y="140.9" width="0.9" height="0.9" fill="#39415c"/>
<rect x="318.2" y="139.9" width="0.9" height="0.9" fill="#39415c"/>
<rect x="315.8" y="146.1" width="0.9" height="0.9" fill="#39415c"/>
<rect x="308.9" y="140.6" width="0.9" height="0.9" fill="#39415c"/>
<rect x="317.2" y="131.6" width="0.9" height="0.9" fill="#39415c"/>
<rect x="317.3" y="140.2" width="0.9" height="0.9" fill="#39415c"/>
<rect x="315.1" y="136.4" width="0.9" height="0.9" fill="#39415c"/>
<rect x="314.4" y="143.8" width="0.9" height="0.9" fill="#39415c"/>
<rect x="320.2" y="142.1" width="0.9" height="0.9" fill="#39415c"/>
<rect x="321.4" y="126.4" width="0.9" height="0.9" fill="#39415c"/>
<rect x="308.3" y="136.6" width="0.9" height="0.9" fill="#39415c"/>
<rect x="319.2" y="125.7" width="0.9" height="0.9" fill="#39415c"/>
<rect x="314.2" y="140.6" width="0.9" height="0.9" fill="#39415c"/>
<rect x="315.6" y="148.1" width="0.9" height="0.9" fill="#39415c"/>
<rect x="315.6" y="152.9" width="0.9" height="0.9" fill="#39415c"/>
<rect x="315.0" y="153.7" width="0.9" height="0.9" fill="#39415c"/>
<rect x="322.1" y="158.9" width="0.9" height="0.9" fill="#39415c"/>
<rect x="321.0" y="153.9" width="0.9" height="0.9" fill="#39415c"/>
<rect x="321.6" y="151.3" width="0.9" height="0.9" fill="#39415c"/>
<rect x="315.8" y="148.7" width="0.9" height="0.9" fill="#39415c"/>
<rect x="325.1" y="184.5" width="0.9" height="0.9" fill="#39415c"/>
<rect x="320.8" y="172.5" width="0.9" height="0.9" fill="#39415c"/>
<rect x="324.7" y="178.9" width="0.9" height="0.9" fill="#39415c"/>
<rect x="322.0" y="176.2" width="0.9" height="0.9" fill="#39415c"/>
<rect x="323.6" y="167.7" width="0.9" height="0.9" fill="#39415c"/>
<rect x="320.8" y="167.5" width="0.9" height="0.9" fill="#39415c"/>
<rect x="328.1" y="184.8" width="0.9" height="0.9" fill="#39415c"/>
<rect x="328.9" y="173.9" width="0.9" height="0.9" fill="#39415c"/>
<rect x="328.7" y="181.9" width="0.9" height="0.9" fill="#39415c"/>
<rect x="324.1" y="176.7" width="0.9" height="0.9" fill="#39415c"/>
<rect x="329.5" y="176.7" width="0.9" height="0.9" fill="#39415c"/>
<rect x="324.0" y="175.9" width="0.9" height="0.9" fill="#39415c"/>
<rect x="323.2" y="182.7" width="0.9" height="0.9" fill="#39415c"/>
<rect x="321.7" y="166.5" width="0.9" height="0.9" fill="#39415c"/>
<rect x="323.3" y="165.7" width="0.9" height="0.9" fill="#39415c"/>
<rect x="323.0" y="178.4" width="0.9" height="0.9" fill="#39415c"/>
<rect x="325.3" y="181.5" width="0.9" height="0.9" fill="#39415c"/>
<rect x="324.1" y="165.8" width="0.9" height="0.9" fill="#39415c"/>
<rect x="328.5" y="171.7" width="0.9" height="0.9" fill="#39415c"/>
<rect x="326.3" y="168.2" width="0.9" height="0.9" fill="#39415c"/>
<rect x="329.0" y="177.1" width="0.9" height="0.9" fill="#39415c"/>
<rect x="327.1" y="185.4" width="0.9" height="0.9" fill="#39415c"/>
<rect x="354.6" y="112" width="120" height="111.4" fill="#ffffff" stroke="#eceff3" stroke-width="0.6"/>
<line x1="354.6" y1="168.0" x2="474.6" y2="168.0" stroke="#cfd4da" stroke-width="0.6"/>
<text x="352.2" y="118.1" font-family="Liberation Sans, sans-serif" font-size="3.2" font-weight="bold" fill="#222" text-anchor="end">2.5</text>
<text x="352.2" y="128.4" font-family="Liberation Sans, sans-serif" font-size="3.2" font-weight="bold" fill="#222" text-anchor="end">2.0</text>
<text x="352.2" y="138.7" font-family="Liberation Sans, sans-serif" font-size="3.2" font-weight="bold" fill="#222" text-anchor="end">1.5</text>
<text x="352.2" y="149.0" font-family="Liberation Sans, sans-serif" font-size="3.2" font-weight="bold" fill="#222" text-anchor="end">1.0</text>
<text x="352.2" y="159.29999999999998" font-family="Liberation Sans, sans-serif" font-size="3.2" font-weight="bold" fill="#222" text-anchor="end">0.5</text>
<text x="352.2" y="169.6" font-family="Liberation Sans, sans-serif" font-size="3.2" font-weight="bold" fill="#222" text-anchor="end">0</text>
<text x="352.2" y="179.9" font-family="Liberation Sans, sans-serif" font-size="3.2" font-weight="bold" fill="#222" text-anchor="end">−0.5</text>
<text x="352.2" y="190.2" font-family="Liberation Sans, sans-serif" font-size="3.2" font-weight="bold" fill="#222" text-anchor="end">−1.0</text>
<text x="352.2" y="200.5" font-family="Liberation Sans, sans-serif" font-size="3.2" font-weight="bold" fill="#222" text-anchor="end">−1.5</text>
<text x="352.2" y="210.79999999999998" font-family="Liberation Sans, sans-serif" font-size="3.2" font-weight="bold" fill="#222" text-anchor="end">−2.0</text>
<text x="352.2" y="221.1" font-family="Liberation Sans, sans-serif" font-size="3.2" font-weight="bold" fill="#222" text-anchor="end">−2.5</text>
<text x="358.6" y="229.6" font-family="Liberation Sans, sans-serif" font-size="3.5" font-weight="bold" fill="#222" text-anchor="middle">0</text>
<text x="380.48" y="229.6" font-family="Liberation Sans, sans-serif" font-size="3.5" font-weight="bold" fill="#222" text-anchor="middle">50</text>
<text x="402.36" y="229.6" font-family="Liberation Sans, sans-serif" font-size="3.5" font-weight="bold" fill="#222" text-anchor="middle">100</text>
<text x="424.24" y="229.6" font-family="Liberation Sans, sans-serif" font-size="3.5" font-weight="bold" fill="#222" text-anchor="middle">150</text>
<text x="446.12" y="229.6" font-family="Liberation Sans, sans-serif" font-size="3.5" font-weight="bold" fill="#222" text-anchor="middle">200</text>
<text x="468.0" y="229.6" font-family="Liberation Sans, sans-serif" font-size="3.5" font-weight="bold" fill="#222" text-anchor="middle">250</text>
<text transform="translate(342.5,167.6) rotate(-90)" font-family="Liberation Sans, sans-serif" font-size="3.9" font-weight="bold" fill="#222" text-anchor="middle">Errorbias</text>
<text x="412.3" y="125.5" font-family="Liberation Serif, serif" font-size="11.45" font-weight="bold" fill="#111" text-anchor="middle">New model</text>
<rect x="424.1" y="187.5" width="1.3" height="1.3" fill="#2a4fc4"/>
<rect x="416.2" y="165.1" width="1.3" height="1.3" fill="#2a4fc4"/>
<rect x="384.1" y="144.5" width="1.3" height="1.3" fill="#2a4fc4"/>
<rect x="369.8" y="158.4" width="1.3" height="1.3" fill="#2a4fc4"/>
<rect x="400.7" y="173.5" width="1.3" height="1.3" fill="#2a4fc4"/>
<rect x="424.7" y="164.0" width="1.3" height="1.3" fill="#2a4fc4"/>
<rect x="446.0" y="174.3" width="1.3" height="1.3" fill="#2a4fc4"/>
<rect x="385.4" y="152.1" width="1.3" height="1.3" fill="#2a4fc4"/>
<rect x="408.4" y="174.4" width="1.3" height="1.3" fill="#2a4fc4"/>
<rect x="372.9" y="162.0" width="1.3" height="1.3" fill="#2a4fc4"/>
<rect x="377.0" y="156.2" width="1.3" height="1.3" fill="#2a4fc4"/>
<rect x="378.1" y="173.1" width="1.3" height="1.3" fill="#2a4fc4"/>
<rect x="439.7" y="161.5" width="1.3" height="1.3" fill="#2a4fc4"/>
<rect x="370.9" y="165.9" width="1.3" height="1.3" fill="#2a4fc4"/>
<rect x="375.6" y="158.2" width="1.3" height="1.3" fill="#2a4fc4"/>
<rect x="366.6" y="160.1" width="1.3" height="1.3" fill="#2a4fc4"/>
<rect x="379.8" y="167.2" width="1.3" height="1.3" fill="#2a4fc4"/>
<rect x="438.0" y="159.2" width="1.3" height="1.3" fill="#2a4fc4"/>
<rect x="425.6" y="180.4" width="1.3" height="1.3" fill="#2a4fc4"/>
<rect x="405.4" y="163.6" width="1.3" height="1.3" fill="#2a4fc4"/>
<rect x="392.2" y="169.7" width="1.3" height="1.3" fill="#2a4fc4"/>
<rect x="383.3" y="163.7" width="1.3" height="1.3" fill="#2a4fc4"/>
<rect x="445.2" y="164.7" width="1.3" height="1.3" fill="#2a4fc4"/>
<rect x="414.9" y="161.5" width="1.3" height="1.3" fill="#2a4fc4"/>
<rect x="435.8" y="170.6" width="1.3" height="1.3" fill="#2a4fc4"/>
<rect x="380.7" y="158.6" width="1.3" height="1.3" fill="#2a4fc4"/>
<rect x="394.2" y="192.1" width="1.3" height="1.3" fill="#2a4fc4"/>
<rect x="434.5" y="163.7" width="1.3" height="1.3" fill="#2a4fc4"/>
<rect x="436.7" y="169.8" width="1.3" height="1.3" fill="#2a4fc4"/>
<rect x="422.0" y="170.5" width="1.3" height="1.3" fill="#2a4fc4"/>
<rect x="438.7" y="186.1" width="1.3" height="1.3" fill="#2a4fc4"/>
<rect x="358.4" y="162.0" width="1.3" height="1.3" fill="#2a4fc4"/>
<rect x="393.5" y="150.7" width="1.3" height="1.3" fill="#2a4fc4"/>
<rect x="435.1" y="180.8" width="1.3" height="1.3" fill="#2a4fc4"/>
<rect x="445.6" y="173.3" width="1.3" height="1.3" fill="#2a4fc4"/>
<rect x="372.2" y="160.8" width="1.3" height="1.3" fill="#2a4fc4"/>
<rect x="405.2" y="179.3" width="1.3" height="1.3" fill="#2a4fc4"/>
<rect x="423.1" y="193.4" width="1.3" height="1.3" fill="#2a4fc4"/>
<rect x="416.5" y="169.3" width="1.3" height="1.3" fill="#2a4fc4"/>
<rect x="407.9" y="180.8" width="1.3" height="1.3" fill="#2a4fc4"/>
<rect x="361.9" y="163.2" width="1.3" height="1.3" fill="#2a4fc4"/>
<rect x="440.9" y="180.2" width="1.3" height="1.3" fill="#2a4fc4"/>
<rect x="416.3" y="172.1" width="1.3" height="1.3" fill="#2a4fc4"/>
<rect x="381.0" y="161.6" width="1.3" height="1.3" fill="#2a4fc4"/>
<rect x="415.5" y="171.8" width="1.3" height="1.3" fill="#2a4fc4"/>
<rect x="364.7" y="169.7" width="1.3" height="1.3" fill="#2a4fc4"/>
<rect x="405.4" y="178.0" width="1.3" height="1.3" fill="#2a4fc4"/>
<rect x="378.4" y="171.5" width="1.3" height="1.3" fill="#2a4fc4"/>
<rect x="412.3" y="161.2" width="1.3" height="1.3" fill="#2a4fc4"/>
<rect x="399.7" y="168.0" width="1.3" height="1.3" fill="#2a4fc4"/>
<rect x="444.4" y="186.4" width="1.3" height="1.3" fill="#2a4fc4"/>
<rect x="401.0" y="185.6" width="1.3" height="1.3" fill="#2a4fc4"/>
<rect x="379.4" y="166.0" width="1.3" height="1.3" fill="#2a4fc4"/>
<rect x="421.6" y="144.7" width="1.3" height="1.3" fill="#2a4fc4"/>
<rect x="386.0" y="155.2" width="1.3" height="1.3" fill="#2a4fc4"/>
<rect x="418.9" y="168.9" width="1.3" height="1.3" fill="#2a4fc4"/>
<rect x="396.1" y="168.9" width="1.3" height="1.3" fill="#2a4fc4"/>
<rect x="441.4" y="157.6" width="1.3" height="1.3" fill="#2a4fc4"/>
<rect x="378.7" y="157.3" width="1.3" height="1.3" fill="#2a4fc4"/>
<rect x="396.1" y="166.2" width="1.3" height="1.3" fill="#2a4fc4"/>
<rect x="419.6" y="164.8" width="1.3" height="1.3" fill="#2a4fc4"/>
<rect x="424.7" y="153.7" width="1.3" height="1.3" fill="#2a4fc4"/>
<rect x="403.7" y="161.4" width="1.3" height="1.3" fill="#2a4fc4"/>
<rect x="386.4" y="141.0" width="1.3" height="1.3" fill="#2a4fc4"/>
<rect x="431.9" y="171.0" width="1.3" height="1.3" fill="#2a4fc4"/>
<rect x="426.6" y="164.1" width="1.3" height="1.3" fill="#2a4fc4"/>
<rect x="384.8" y="155.5" width="1.3" height="1.3" fill="#2a4fc4"/>
<rect x="375.2" y="169.6" width="1.3" height="1.3" fill="#2a4fc4"/>
<rect x="378.4" y="179.6" width="1.3" height="1.3" fill="#2a4fc4"/>
<rect x="443.5" y="165.5" width="1.3" height="1.3" fill="#2a4fc4"/>
<rect x="371.5" y="171.3" width="1.3" height="1.3" fill="#2a4fc4"/>
<rect x="445.8" y="168.9" width="1.3" height="1.3" fill="#2a4fc4"/>
<rect x="371.1" y="162.2" width="1.3" height="1.3" fill="#2a4fc4"/>
<rect x="393.7" y="166.8" width="1.3" height="1.3" fill="#2a4fc4"/>
<rect x="439.0" y="160.2" width="1.3" height="1.3" fill="#2a4fc4"/>
<rect x="447.9" y="184.7" width="1.3" height="1.3" fill="#2a4fc4"/>
<rect x="442.0" y="176.1" width="1.3" height="1.3" fill="#2a4fc4"/>
<rect x="442.3" y="167.2" width="1.3" height="1.3" fill="#2a4fc4"/>
<rect x="425.3" y="156.3" width="1.3" height="1.3" fill="#2a4fc4"/>
<rect x="392.4" y="164.8" width="1.3" height="1.3" fill="#2a4fc4"/>
<rect x="391.9" y="170.9" width="1.3" height="1.3" fill="#2a4fc4"/>
<rect x="358.6" y="158.9" width="1.3" height="1.3" fill="#2a4fc4"/>
<rect x="383.5" y="182.2" width="1.3" height="1.3" fill="#2a4fc4"/>
<rect x="369.5" y="144.8" width="1.3" height="1.3" fill="#2a4fc4"/>
<rect x="444.9" y="170.7" width="1.3" height="1.3" fill="#2a4fc4"/>
<rect x="432.1" y="162.6" width="1.3" height="1.3" fill="#2a4fc4"/>
<rect x="432.1" y="174.9" width="1.3" height="1.3" fill="#2a4fc4"/>
<rect x="400.9" y="167.4" width="1.3" height="1.3" fill="#2a4fc4"/>
<rect x="391.8" y="161.9" width="1.3" height="1.3" fill="#2a4fc4"/>
<rect x="391.1" y="171.0" width="1.3" height="1.3" fill="#2a4fc4"/>
<rect x="438.9" y="162.2" width="1.3" height="1.3" fill="#2a4fc4"/>
<rect x="431.2" y="169.8" width="1.3" height="1.3" fill="#2a4fc4"/>
<rect x="427.2" y="168.8" width="1.3" height="1.3" fill="#2a4fc4"/>
<rect x="364.0" y="164.2" width="1.3" height="1.3" fill="#2a4fc4"/>
<rect x="440.9" y="173.6" width="1.3" height="1.3" fill="#2a4fc4"/>
<rect x="439.0" y="155.6" width="1.3" height="1.3" fill="#2a4fc4"/>
<rect x="388.8" y="171.1" width="1.3" height="1.3" fill="#2a4fc4"/>
<rect x="413.7" y="144.4" width="1.3" height="1.3" fill="#2a4fc4"/>
<rect x="381.9" y="168.6" width="1.3" height="1.3" fill="#2a4fc4"/>
<rect x="383.1" y="175.7" width="1.3" height="1.3" fill="#2a4fc4"/>
<rect x="358.7" y="163.5" width="1.3" height="1.3" fill="#2a4fc4"/>
<rect x="415.3" y="193.1" width="1.3" height="1.3" fill="#2a4fc4"/>
<rect x="443.0" y="165.6" width="1.3" height="1.3" fill="#2a4fc4"/>
<rect x="401.0" y="167.6" width="1.3" height="1.3" fill="#2a4fc4"/>
<rect x="444.2" y="163.4" width="1.3" height="1.3" fill="#2a4fc4"/>
<rect x="380.9" y="169.5" width="1.3" height="1.3" fill="#2a4fc4"/>
<rect x="397.0" y="191.9" width="1.3" height="1.3" fill="#2a4fc4"/>
<rect x="374.8" y="165.0" width="1.3" height="1.3" fill="#2a4fc4"/>
<rect x="430.4" y="173.1" width="1.3" height="1.3" fill="#2a4fc4"/>
<rect x="427.7" y="190.6" width="1.3" height="1.3" fill="#2a4fc4"/>
<rect x="412.9" y="174.2" width="1.3" height="1.3" fill="#2a4fc4"/>
<rect x="390.8" y="159.7" width="1.3" height="1.3" fill="#2a4fc4"/>
<rect x="428.6" y="165.6" width="1.3" height="1.3" fill="#2a4fc4"/>
<rect x="425.9" y="168.0" width="1.3" height="1.3" fill="#2a4fc4"/>
<rect x="380.6" y="164.1" width="1.3" height="1.3" fill="#2a4fc4"/>
<rect x="408.0" y="168.4" width="1.3" height="1.3" fill="#2a4fc4"/>
<rect x="387.6" y="146.1" width="1.3" height="1.3" fill="#2a4fc4"/>
<rect x="447.0" y="176.1" width="1.3" height="1.3" fill="#2a4fc4"/>
<rect x="382.2" y="162.8" width="1.3" height="1.3" fill="#2a4fc4"/>
<rect x="403.1" y="166.6" width="1.3" height="1.3" fill="#2a4fc4"/>
<rect x="422.1" y="178.0" width="1.3" height="1.3" fill="#2a4fc4"/>
<rect x="395.8" y="165.7" width="1.3" height="1.3" fill="#2a4fc4"/>
<rect x="414.0" y="177.9" width="1.3" height="1.3" fill="#2a4fc4"/>
<rect x="434.4" y="187.4" width="1.3" height="1.3" fill="#2a4fc4"/>
<rect x="418.0" y="156.2" width="1.3" height="1.3" fill="#2a4fc4"/>
<rect x="384.7" y="153.4" width="1.3" height="1.3" fill="#2a4fc4"/>
<rect x="409.2" y="181.3" width="1.3" height="1.3" fill="#2a4fc4"/>
<rect x="376.3" y="154.1" width="1.3" height="1.3" fill="#2a4fc4"/>
<rect x="380.6" y="166.4" width="1.3" height="1.3" fill="#2a4fc4"/>
<rect x="437.7" y="166.6" width="1.3" height="1.3" fill="#2a4fc4"/>
<rect x="410.3" y="174.5" width="1.3" height="1.3" fill="#2a4fc4"/>
<rect x="447.4" y="164.3" width="1.3" height="1.3" fill="#2a4fc4"/>
<rect x="403.9" y="166.8" width="1.3" height="1.3" fill="#2a4fc4"/>
<rect x="417.0" y="151.8" width="1.3" height="1.3" fill="#2a4fc4"/>
<rect x="447.3" y="164.2" width="1.3" height="1.3" fill="#2a4fc4"/>
<rect x="431.9" y="164.9" width="1.3" height="1.3" fill="#2a4fc4"/>
<rect x="433.8" y="169.6" width="1.3" height="1.3" fill="#2a4fc4"/>
<rect x="384.7" y="168.5" width="1.3" height="1.3" fill="#2a4fc4"/>
<rect x="369.1" y="155.2" width="1.3" height="1.3" fill="#2a4fc4"/>
<rect x="410.7" y="144.0" width="1.3" height="1.3" fill="#2a4fc4"/>
<rect x="441.8" y="187.3" width="1.3" height="1.3" fill="#2a4fc4"/>
<rect x="398.7" y="153.6" width="1.3" height="1.3" fill="#2a4fc4"/>
<rect x="381.7" y="162.4" width="1.3" height="1.3" fill="#2a4fc4"/>
<rect x="367.9" y="189.8" width="1.3" height="1.3" fill="#2a4fc4"/>
<rect x="411.9" y="175.1" width="1.3" height="1.3" fill="#2a4fc4"/>
<rect x="391.5" y="172.7" width="1.3" height="1.3" fill="#2a4fc4"/>
<rect x="371.1" y="163.4" width="1.3" height="1.3" fill="#2a4fc4"/>
<rect x="412.2" y="162.3" width="1.3" height="1.3" fill="#2a4fc4"/>
<rect x="416.8" y="169.9" width="1.3" height="1.3" fill="#2a4fc4"/>
<rect x="387.7" y="165.9" width="1.3" height="1.3" fill="#2a4fc4"/>
<rect x="419.2" y="167.1" width="1.3" height="1.3" fill="#2a4fc4"/>
<rect x="376.6" y="158.0" width="1.3" height="1.3" fill="#2a4fc4"/>
<rect x="429.7" y="175.2" width="1.3" height="1.3" fill="#2a4fc4"/>
<rect x="367.5" y="166.4" width="1.3" height="1.3" fill="#2a4fc4"/>
<rect x="393.8" y="182.0" width="1.3" height="1.3" fill="#2a4fc4"/>
<rect x="366.6" y="169.7" width="1.3" height="1.3" fill="#2a4fc4"/>
<rect x="373.1" y="169.4" width="1.3" height="1.3" fill="#2a4fc4"/>
<rect x="383.8" y="176.9" width="1.3" height="1.3" fill="#2a4fc4"/>
<rect x="386.0" y="158.6" width="1.3" height="1.3" fill="#2a4fc4"/>
<rect x="409.2" y="172.2" width="1.3" height="1.3" fill="#2a4fc4"/>
<rect x="390.4" y="185.4" width="1.3" height="1.3" fill="#2a4fc4"/>
<rect x="447.8" y="163.2" width="1.3" height="1.3" fill="#2a4fc4"/>
<rect x="391.0" y="162.3" width="1.3" height="1.3" fill="#2a4fc4"/>
<rect x="376.7" y="150.5" width="1.3" height="1.3" fill="#2a4fc4"/>
<rect x="358.9" y="155.5" width="1.3" height="1.3" fill="#2a4fc4"/>
<rect x="432.0" y="178.2" width="1.3" height="1.3" fill="#2a4fc4"/>
<rect x="394.8" y="159.6" width="1.3" height="1.3" fill="#2a4fc4"/>
<rect x="373.0" y="173.5" width="1.3" height="1.3" fill="#2a4fc4"/>
<rect x="359.7" y="178.4" width="1.3" height="1.3" fill="#2a4fc4"/>
<rect x="440.0" y="177.4" width="1.3" height="1.3" fill="#2a4fc4"/>
<rect x="366.4" y="172.3" width="1.3" height="1.3" fill="#2a4fc4"/>
<rect x="403.6" y="175.9" width="1.3" height="1.3" fill="#2a4fc4"/>
<rect x="371.5" y="168.3" width="1.3" height="1.3" fill="#2a4fc4"/>
<rect x="441.4" y="160.7" width="1.3" height="1.3" fill="#2a4fc4"/>
<rect x="368.1" y="183.9" width="1.3" height="1.3" fill="#2a4fc4"/>
<rect x="445.1" y="172.2" width="1.3" height="1.3" fill="#2a4fc4"/>
<rect x="376.1" y="148.9" width="1.3" height="1.3" fill="#2a4fc4"/>
<rect x="445.9" y="155.8" width="1.3" height="1.3" fill="#2a4fc4"/>
<rect x="401.7" y="146.6" width="1.3" height="1.3" fill="#2a4fc4"/>
<rect x="393.2" y="160.2" width="1.3" height="1.3" fill="#2a4fc4"/>
<rect x="439.5" y="186.7" width="1.3" height="1.3" fill="#2a4fc4"/>
<rect x="372.8" y="179.0" width="1.3" height="1.3" fill="#2a4fc4"/>
<rect x="428.9" y="169.8" width="1.3" height="1.3" fill="#2a4fc4"/>
<rect x="434.3" y="161.8" width="1.3" height="1.3" fill="#2a4fc4"/>
<rect x="432.8" y="169.1" width="1.3" height="1.3" fill="#2a4fc4"/>
<rect x="394.2" y="161.4" width="1.3" height="1.3" fill="#2a4fc4"/>
<rect x="404.8" y="173.0" width="1.3" height="1.3" fill="#2a4fc4"/>
<rect x="380.6" y="163.1" width="1.3" height="1.3" fill="#2a4fc4"/>
<rect x="423.4" y="168.7" width="1.3" height="1.3" fill="#2a4fc4"/>
<rect x="408.8" y="171.3" width="1.3" height="1.3" fill="#2a4fc4"/>
<rect x="426.3" y="152.2" width="1.3" height="1.3" fill="#2a4fc4"/>
<rect x="368.9" y="160.7" width="1.3" height="1.3" fill="#2a4fc4"/>
<rect x="412.2" y="183.6" width="1.3" height="1.3" fill="#2a4fc4"/>
<rect x="385.9" y="171.6" width="1.3" height="1.3" fill="#2a4fc4"/>
<rect x="396.1" y="177.6" width="1.3" height="1.3" fill="#2a4fc4"/>
<rect x="417.5" y="175.8" width="1.3" height="1.3" fill="#2a4fc4"/>
<rect x="398.5" y="170.5" width="1.3" height="1.3" fill="#2a4fc4"/>
<rect x="413.9" y="169.2" width="1.3" height="1.3" fill="#2a4fc4"/>
<rect x="402.3" y="167.2" width="1.3" height="1.3" fill="#2a4fc4"/>
<rect x="428.4" y="154.1" width="1.3" height="1.3" fill="#2a4fc4"/>
<rect x="399.5" y="163.6" width="1.3" height="1.3" fill="#2a4fc4"/>
<rect x="368.0" y="154.8" width="1.3" height="1.3" fill="#2a4fc4"/>
<rect x="369.9" y="169.6" width="1.3" height="1.3" fill="#2a4fc4"/>
<rect x="398.0" y="166.5" width="1.3" height="1.3" fill="#2a4fc4"/>
<rect x="404.2" y="154.9" width="1.3" height="1.3" fill="#2a4fc4"/>
<rect x="365.8" y="161.4" width="1.3" height="1.3" fill="#2a4fc4"/>
<rect x="424.2" y="169.0" width="1.3" height="1.3" fill="#2a4fc4"/>
<rect x="363.3" y="177.0" width="1.3" height="1.3" fill="#2a4fc4"/>
<rect x="403.6" y="187.2" width="1.3" height="1.3" fill="#2a4fc4"/>
<rect x="370.6" y="148.0" width="1.3" height="1.3" fill="#2a4fc4"/>
<rect x="435.3" y="155.6" width="1.3" height="1.3" fill="#2a4fc4"/>
<rect x="431.5" y="172.3" width="1.3" height="1.3" fill="#2a4fc4"/>
<rect x="375.8" y="154.2" width="1.3" height="1.3" fill="#2a4fc4"/>
<rect x="444.2" y="174.6" width="1.3" height="1.3" fill="#2a4fc4"/>
<rect x="440.6" y="163.6" width="1.3" height="1.3" fill="#2a4fc4"/>
<rect x="441.9" y="157.3" width="1.3" height="1.3" fill="#2a4fc4"/>
<rect x="364.3" y="175.2" width="1.3" height="1.3" fill="#2a4fc4"/>
<rect x="372.6" y="151.8" width="1.3" height="1.3" fill="#2a4fc4"/>
<rect x="438.8" y="175.6" width="1.3" height="1.3" fill="#2a4fc4"/>
<rect x="371.3" y="146.9" width="1.3" height="1.3" fill="#2a4fc4"/>
<rect x="403.4" y="162.8" width="1.3" height="1.3" fill="#2a4fc4"/>
<rect x="382.0" y="170.1" width="1.3" height="1.3" fill="#2a4fc4"/>
<rect x="403.8" y="170.2" width="1.3" height="1.3" fill="#2a4fc4"/>
<rect x="374.7" y="163.4" width="1.3" height="1.3" fill="#2a4fc4"/>
<rect x="372.9" y="151.5" width="1.3" height="1.3" fill="#2a4fc4"/>
<rect x="438.7" y="178.7" width="1.3" height="1.3" fill="#2a4fc4"/>
<rect x="373.5" y="164.8" width="1.3" height="1.3" fill="#2a4fc4"/>
<rect x="406.0" y="174.2" width="1.3" height="1.3" fill="#2a4fc4"/>
<rect x="415.5" y="183.5" width="1.3" height="1.3" fill="#2a4fc4"/>
<rect x="408.2" y="153.3" width="1.3" height="1.3" fill="#2a4fc4"/>
<rect x="410.4" y="166.1" width="1.3" height="1.3" fill="#2a4fc4"/>
<rect x="447.5" y="176.8" width="1.3" height="1.3" fill="#2a4fc4"/>
<rect x="414.9" y="184.7" width="1.3" height="1.3" fill="#2a4fc4"/>
<rect x="382.1" y="155.4" width="1.3" height="1.3" fill="#2a4fc4"/>
<rect x="447.2" y="182.1" width="1.3" height="1.3" fill="#2a4fc4"/>
<rect x="465.7" y="172.0" width="0.9" height="0.9" fill="#39415c"/>
<rect x="458.4" y="157.5" width="0.9" height="0.9" fill="#39415c"/>
<rect x="449.4" y="148.2" width="0.9" height="0.9" fill="#39415c"/>
<rect x="467.0" y="166.9" width="0.9" height="0.9" fill="#39415c"/>
<rect x="470.7" y="148.9" width="0.9" height="0.9" fill="#39415c"/>
<rect x="461.6" y="172.0" width="0.9" height="0.9" fill="#39415c"/>
<rect x="448.3" y="175.7" width="0.9" height="0.9" fill="#39415c"/>
<rect x="449.1" y="156.4" width="0.9" height="0.9" fill="#39415c"/>
<rect x="458.1" y="152.7" width="0.9" height="0.9" fill="#39415c"/>
<rect x="460.0" y="161.3" width="0.9" height="0.9" fill="#39415c"/>
<rect x="453.5" y="170.5" width="0.9" height="0.9" fill="#39415c"/>
<rect x="463.2" y="165.6" width="0.9" height="0.9" fill="#39415c"/>
<rect x="456.4" y="166.4" width="0.9" height="0.9" fill="#39415c"/>
<rect x="450.7" y="172.0" width="0.9" height="0.9" fill="#39415c"/>
<rect x="461.6" y="159.6" width="0.9" height="0.9" fill="#39415c"/>
<rect x="461.7" y="161.6" width="0.9" height="0.9" fill="#39415c"/>
<rect x="459.1" y="149.9" width="0.9" height="0.9" fill="#39415c"/>
<rect x="451.4" y="158.0" width="0.9" height="0.9" fill="#39415c"/>
<rect x="451.7" y="170.1" width="0.9" height="0.9" fill="#39415c"/>
<rect x="450.5" y="182.7" width="0.9" height="0.9" fill="#39415c"/>
<rect x="466.1" y="185.6" width="0.9" height="0.9" fill="#39415c"/>
<rect x="457.4" y="166.7" width="0.9" height="0.9" fill="#39415c"/>
<rect x="463.0" y="164.6" width="0.9" height="0.9" fill="#39415c"/>
<rect x="461.1" y="177.0" width="0.9" height="0.9" fill="#39415c"/>
<rect x="458.4" y="152.1" width="0.9" height="0.9" fill="#39415c"/>
<rect x="469.6" y="167.5" width="0.9" height="0.9" fill="#39415c"/>
<rect x="468.9" y="175.8" width="0.9" height="0.9" fill="#39415c"/>
<rect x="449.3" y="178.9" width="0.9" height="0.9" fill="#39415c"/>
<rect x="453.7" y="169.0" width="0.9" height="0.9" fill="#39415c"/>
<rect x="449.6" y="166.2" width="0.9" height="0.9" fill="#39415c"/>
<rect x="460.8" y="168.4" width="0.9" height="0.9" fill="#39415c"/>
<rect x="469.7" y="161.4" width="0.9" height="0.9" fill="#39415c"/>
<rect x="462.1" y="160.1" width="0.9" height="0.9" fill="#39415c"/>
<rect x="459.8" y="180.8" width="0.9" height="0.9" fill="#39415c"/>
<rect x="452.3" y="184.1" width="0.9" height="0.9" fill="#39415c"/>
<rect x="455.3" y="167.7" width="0.9" height="0.9" fill="#39415c"/>
<rect x="468.5" y="162.8" width="0.9" height="0.9" fill="#39415c"/>
<rect x="466.1" y="166.8" width="0.9" height="0.9" fill="#39415c"/>
<rect x="467.5" y="167.9" width="0.9" height="0.9" fill="#39415c"/>
<rect x="465.3" y="186.4" width="0.9" height="0.9" fill="#39415c"/>
<rect x="458.6" y="162.1" width="0.9" height="0.9" fill="#39415c"/>
<rect x="453.4" y="159.4" width="0.9" height="0.9" fill="#39415c"/>
<defs><linearGradient id="sem" x1="0" x2="1" y1="0" y2="0"><stop offset="0" stop-color="#8c8c8c"/><stop offset="0.03" stop-color="#9a9a9a"/><stop offset="0.075" stop-color="#e4e4e4"/><stop offset="0.12" stop-color="#f4f4f4"/><stop offset="0.155" stop-color="#b4b4b4"/><stop offset="0.19" stop-color="#6c6c6c"/><stop offset="0.23" stop-color="#5e5e5e"/><stop offset="0.5" stop-color="#686868"/><stop offset="0.715" stop-color="#5e5e5e"/><stop offset="0.745" stop-color="#8a8a8a"/><stop offset="0.785" stop-color="#f2f2f2"/><stop offset="0.86" stop-color="#ebebeb"/><stop offset="0.91" stop-color="#d8d8d8"/><stop offset="1" stop-color="#cecece"/></linearGradient><filter id="nz" x="0" y="0" width="1" height="1"><feTurbulence type="fractalNoise" baseFrequency="0.9" numOctaves="2" seed="3" result="t"/><feColorMatrix in="t" type="matrix" values="0 0 0 0 0.5  0 0 0 0 0.5  0 0 0 0 0.5  0.6 0.6 0 0 -0.45"/></filter></defs>
<rect x="488.6" y="36.6" width="83" height="82.4" fill="#8a8a8a"/>
<rect x="490.8" y="39.0" width="2.2" height="4.5" rx="1.1" fill="#1c1cc4" stroke="#17176e" stroke-width="0.3"/>
<rect x="490.8" y="47.0" width="2.2" height="4.5" rx="1.1" fill="#1c1cc4" stroke="#17176e" stroke-width="0.3"/>
<rect x="490.8" y="55.0" width="2.2" height="4.5" rx="1.1" fill="#1c1cc4" stroke="#17176e" stroke-width="0.3"/>
<rect x="490.8" y="63.0" width="2.2" height="4.5" rx="1.1" fill="#1c1cc4" stroke="#17176e" stroke-width="0.3"/>
<rect x="490.8" y="71.0" width="2.2" height="4.5" rx="1.1" fill="#1c1cc4" stroke="#17176e" stroke-width="0.3"/>
<rect x="490.8" y="79.0" width="2.2" height="4.5" rx="1.1" fill="#1c1cc4" stroke="#17176e" stroke-width="0.3"/>
<rect x="490.8" y="87.1" width="2.2" height="4.5" rx="1.1" fill="#1c1cc4" stroke="#17176e" stroke-width="0.3"/>
<rect x="490.8" y="95.1" width="2.2" height="4.5" rx="1.1" fill="#1c1cc4" stroke="#17176e" stroke-width="0.3"/>
<rect x="490.8" y="103.1" width="2.2" height="4.5" rx="1.1" fill="#1c1cc4" stroke="#17176e" stroke-width="0.3"/>
<rect x="490.8" y="111.1" width="2.2" height="4.5" rx="1.1" fill="#1c1cc4" stroke="#17176e" stroke-width="0.3"/>
<rect x="498.7" y="39.0" width="2.2" height="4.5" rx="1.1" fill="#1c1cc4" stroke="#17176e" stroke-width="0.3"/>
<rect x="498.7" y="47.0" width="2.2" height="4.5" rx="1.1" fill="#1c1cc4" stroke="#17176e" stroke-width="0.3"/>
<rect x="498.7" y="55.0" width="2.2" height="4.5" rx="1.1" fill="#1c1cc4" stroke="#17176e" stroke-width="0.3"/>
<rect x="498.7" y="63.0" width="2.2" height="4.5" rx="1.1" fill="#1c1cc4" stroke="#17176e" stroke-width="0.3"/>
<rect x="498.7" y="71.0" width="2.2" height="4.5" rx="1.1" fill="#1c1cc4" stroke="#17176e" stroke-width="0.3"/>
<rect x="498.7" y="79.0" width="2.2" height="4.5" rx="1.1" fill="#1c1cc4" stroke="#17176e" stroke-width="0.3"/>
<rect x="498.7" y="87.1" width="2.2" height="4.5" rx="1.1" fill="#1c1cc4" stroke="#17176e" stroke-width="0.3"/>
<rect x="498.7" y="95.1" width="2.2" height="4.5" rx="1.1" fill="#1c1cc4" stroke="#17176e" stroke-width="0.3"/>
<rect x="498.7" y="103.1" width="2.2" height="4.5" rx="1.1" fill="#1c1cc4" stroke="#17176e" stroke-width="0.3"/>
<rect x="498.7" y="111.1" width="2.2" height="4.5" rx="1.1" fill="#1c1cc4" stroke="#17176e" stroke-width="0.3"/>
<rect x="506.6" y="39.0" width="2.2" height="4.5" rx="1.1" fill="#1c1cc4" stroke="#17176e" stroke-width="0.3"/>
<rect x="506.6" y="47.0" width="2.2" height="4.5" rx="1.1" fill="#1c1cc4" stroke="#17176e" stroke-width="0.3"/>
<rect x="506.6" y="55.0" width="2.2" height="4.5" rx="1.1" fill="#1c1cc4" stroke="#17176e" stroke-width="0.3"/>
<rect x="506.6" y="63.0" width="2.2" height="4.5" rx="1.1" fill="#1c1cc4" stroke="#17176e" stroke-width="0.3"/>
<rect x="506.6" y="71.0" width="2.2" height="4.5" rx="1.1" fill="#1c1cc4" stroke="#17176e" stroke-width="0.3"/>
<rect x="506.6" y="79.0" width="2.2" height="4.5" rx="1.1" fill="#1c1cc4" stroke="#17176e" stroke-width="0.3"/>
<rect x="506.6" y="87.1" width="2.2" height="4.5" rx="1.1" fill="#1c1cc4" stroke="#17176e" stroke-width="0.3"/>
<rect x="506.6" y="95.1" width="2.2" height="4.5" rx="1.1" fill="#1c1cc4" stroke="#17176e" stroke-width="0.3"/>
<rect x="506.6" y="103.1" width="2.2" height="4.5" rx="1.1" fill="#1c1cc4" stroke="#17176e" stroke-width="0.3"/>
<rect x="506.6" y="111.1" width="2.2" height="4.5" rx="1.1" fill="#1c1cc4" stroke="#17176e" stroke-width="0.3"/>
<rect x="514.5" y="39.0" width="2.2" height="4.5" rx="1.1" fill="#1c1cc4" stroke="#17176e" stroke-width="0.3"/>
<rect x="514.5" y="47.0" width="2.2" height="4.5" rx="1.1" fill="#1c1cc4" stroke="#17176e" stroke-width="0.3"/>
<rect x="514.5" y="55.0" width="2.2" height="4.5" rx="1.1" fill="#1c1cc4" stroke="#17176e" stroke-width="0.3"/>
<rect x="514.5" y="63.0" width="2.2" height="4.5" rx="1.1" fill="#1c1cc4" stroke="#17176e" stroke-width="0.3"/>
<rect x="514.5" y="71.0" width="2.2" height="4.5" rx="1.1" fill="#1c1cc4" stroke="#17176e" stroke-width="0.3"/>
<rect x="514.5" y="79.0" width="2.2" height="4.5" rx="1.1" fill="#1c1cc4" stroke="#17176e" stroke-width="0.3"/>
<rect x="514.5" y="87.1" width="2.2" height="4.5" rx="1.1" fill="#1c1cc4" stroke="#17176e" stroke-width="0.3"/>
<rect x="514.5" y="95.1" width="2.2" height="4.5" rx="1.1" fill="#1c1cc4" stroke="#17176e" stroke-width="0.3"/>
<rect x="514.5" y="103.1" width="2.2" height="4.5" rx="1.1" fill="#1c1cc4" stroke="#17176e" stroke-width="0.3"/>
<rect x="514.5" y="111.1" width="2.2" height="4.5" rx="1.1" fill="#1c1cc4" stroke="#17176e" stroke-width="0.3"/>
<rect x="522.4" y="39.0" width="2.2" height="4.5" rx="1.1" fill="#1c1cc4" stroke="#17176e" stroke-width="0.3"/>
<rect x="522.4" y="47.0" width="2.2" height="4.5" rx="1.1" fill="#1c1cc4" stroke="#17176e" stroke-width="0.3"/>
<rect x="522.4" y="55.0" width="2.2" height="4.5" rx="1.1" fill="#1c1cc4" stroke="#17176e" stroke-width="0.3"/>
<rect x="522.4" y="63.0" width="2.2" height="4.5" rx="1.1" fill="#1c1cc4" stroke="#17176e" stroke-width="0.3"/>
<rect x="522.4" y="71.0" width="2.2" height="4.5" rx="1.1" fill="#1c1cc4" stroke="#17176e" stroke-width="0.3"/>
<rect x="522.4" y="79.0" width="2.2" height="4.5" rx="1.1" fill="#1c1cc4" stroke="#17176e" stroke-width="0.3"/>
<rect x="522.4" y="87.1" width="2.2" height="4.5" rx="1.1" fill="#1c1cc4" stroke="#17176e" stroke-width="0.3"/>
<rect x="522.4" y="95.1" width="2.2" height="4.5" rx="1.1" fill="#1c1cc4" stroke="#17176e" stroke-width="0.3"/>
<rect x="522.4" y="103.1" width="2.2" height="4.5" rx="1.1" fill="#1c1cc4" stroke="#17176e" stroke-width="0.3"/>
<rect x="522.4" y="111.1" width="2.2" height="4.5" rx="1.1" fill="#1c1cc4" stroke="#17176e" stroke-width="0.3"/>
<rect x="530.3" y="39.0" width="2.2" height="4.5" rx="1.1" fill="#1c1cc4" stroke="#17176e" stroke-width="0.3"/>
<rect x="530.3" y="47.0" width="2.2" height="4.5" rx="1.1" fill="#1c1cc4" stroke="#17176e" stroke-width="0.3"/>
<rect x="530.3" y="55.0" width="2.2" height="4.5" rx="1.1" fill="#1c1cc4" stroke="#17176e" stroke-width="0.3"/>
<rect x="530.3" y="63.0" width="2.2" height="4.5" rx="1.1" fill="#1c1cc4" stroke="#17176e" stroke-width="0.3"/>
<rect x="530.3" y="71.0" width="2.2" height="4.5" rx="1.1" fill="#1c1cc4" stroke="#17176e" stroke-width="0.3"/>
<rect x="530.3" y="79.0" width="2.2" height="4.5" rx="1.1" fill="#1c1cc4" stroke="#17176e" stroke-width="0.3"/>
<rect x="530.3" y="87.1" width="2.2" height="4.5" rx="1.1" fill="#1c1cc4" stroke="#17176e" stroke-width="0.3"/>
<rect x="530.3" y="95.1" width="2.2" height="4.5" rx="1.1" fill="#1c1cc4" stroke="#17176e" stroke-width="0.3"/>
<rect x="530.3" y="103.1" width="2.2" height="4.5" rx="1.1" fill="#1c1cc4" stroke="#17176e" stroke-width="0.3"/>
<rect x="530.3" y="111.1" width="2.2" height="4.5" rx="1.1" fill="#1c1cc4" stroke="#17176e" stroke-width="0.3"/>
<rect x="548.8" y="68.5" width="95" height="68.4" fill="url(#sem)"/>
<rect x="548.8" y="68.5" width="95" height="68.4" filter="url(#nz)" opacity="0.35"/>
<path d="M567.4,68.5 Q564.1999999999999,102.7 567.4,136.9" fill="none" stroke="#e03030" stroke-width="0.9"/>
<path d="M564.4,68.5 Q558.0000000000001,102.7 564.4,136.9" fill="none" stroke="#1f2fd8" stroke-width="1.6"/>
<path d="M563.0,68.5 Q557.4000000000001,102.7 563.0,136.9" fill="none" stroke="#3a8a5a" stroke-width="0.5"/>
<path d="M617.6,68.5 Q622.8000000000001,102.7 617.6,136.9" fill="none" stroke="#e03030" stroke-width="0.7"/>
<path d="M619.0,68.5 Q625.4000000000001,102.7 619.0,136.9" fill="none" stroke="#1f2fd8" stroke-width="1.6"/>
<path d="M620.6,68.5 Q626.6,102.7 620.6,136.9" fill="none" stroke="#e03030" stroke-width="0.6"/>
<line x1="546" y1="108.3" x2="643" y2="108.3" stroke="#e06a6a" stroke-width="0.5"/>
<line x1="568.6" y1="86.3" x2="578.2" y2="86.3" stroke="#1f2fd8" stroke-width="1.5"/>
<line x1="568.6" y1="93.5" x2="578.2" y2="93.5" stroke="#8cc86a" stroke-width="1.5"/>
<line x1="568.6" y1="100.8" x2="578.2" y2="100.8" stroke="#e02020" stroke-width="1.5"/>
<text transform="translate(579.6,88.5) scale(0.84,1)" font-family="Liberation Serif, serif" font-size="8.2" font-weight="bold" fill="#2028c8">Wafer data</text>
<text transform="translate(579.6,95.8) scale(0.84,1)" font-family="Liberation Serif, serif" font-size="8.2" font-weight="bold" fill="#a8c860">New model</text>
<text transform="translate(579.6,103.1) scale(0.84,1)" font-family="Liberation Serif, serif" font-size="8.2" font-weight="bold" fill="#dc2020">Beta model</text>
<rect x="522.6" y="79.4" width="12.6" height="3.6" fill="none" stroke="#e03030" stroke-width="0.6"/>
<line x1="535.2" y1="81.2" x2="546.2" y2="100.8" stroke="#e03030" stroke-width="0.7"/>
<polygon points="547,102.2 543.6,99.6 546.2,98.2" fill="#e03030"/>
<rect x="493.6" y="140.4" width="178.6" height="84.6" fill="#f9fcff" stroke="#e9eef3" stroke-width="0.6"/>
<rect x="481.2" y="225.2" width="198.4" height="6.6" fill="#ffffff"/>
<text transform="translate(501.4,149.2) scale(0.865,1)" font-family="Liberation Serif, serif" font-size="8.2" fill="#111">Red: model error by new model</text>
<text transform="translate(501.4,157.8) scale(0.865,1)" font-family="Liberation Serif, serif" font-size="8.2" fill="#111">Blue: model error by beta model</text>
<text x="491.2" y="146.10000000000002" font-family="Liberation Serif, serif" font-size="4.3" font-weight="bold" fill="#222" text-anchor="end">7</text>
<text x="491.2" y="153.9" font-family="Liberation Serif, serif" font-size="4.3" font-weight="bold" fill="#222" text-anchor="end">6</text>
<text x="491.2" y="161.70000000000002" font-family="Liberation Serif, serif" font-size="4.3" font-weight="bold" fill="#222" text-anchor="end">5</text>
<text x="491.2" y="169.50000000000003" font-family="Liberation Serif, serif" font-size="4.3" font-weight="bold" fill="#222" text-anchor="end">4</text>
<text x="491.2" y="177.3" font-family="Liberation Serif, serif" font-size="4.3" font-weight="bold" fill="#222" text-anchor="end">3</text>
<text x="491.2" y="185.10000000000002" font-family="Liberation Serif, serif" font-size="4.3" font-weight="bold" fill="#222" text-anchor="end">2</text>
<text x="491.2" y="192.9" font-family="Liberation Serif, serif" font-size="4.3" font-weight="bold" fill="#222" text-anchor="end">1</text>
<text x="491.2" y="200.70000000000002" font-family="Liberation Serif, serif" font-size="4.3" font-weight="bold" fill="#222" text-anchor="end">0</text>
<text x="491.2" y="208.50000000000003" font-family="Liberation Serif, serif" font-size="4.3" font-weight="bold" fill="#222" text-anchor="end">−1</text>
<text x="491.2" y="216.3" font-family="Liberation Serif, serif" font-size="4.3" font-weight="bold" fill="#222" text-anchor="end">−2</text>
<text x="491.2" y="224.10000000000002" font-family="Liberation Serif, serif" font-size="4.3" font-weight="bold" fill="#222" text-anchor="end">−3</text>
<text transform="translate(486.2,180) rotate(-90)" font-family="Liberation Sans, sans-serif" font-size="3.8" font-weight="bold" fill="#222" text-anchor="middle">Biasdata</text>
<text x="498.6" y="229.2" font-family="Liberation Serif, serif" font-size="4.3" font-weight="bold" fill="#222" text-anchor="middle">8</text>
<text x="509.77000000000004" y="229.2" font-family="Liberation Serif, serif" font-size="4.3" font-weight="bold" fill="#222" text-anchor="middle">9</text>
<text x="520.94" y="229.2" font-family="Liberation Serif, serif" font-size="4.3" font-weight="bold" fill="#222" text-anchor="middle">10</text>
<text x="532.11" y="229.2" font-family="Liberation Serif, serif" font-size="4.3" font-weight="bold" fill="#222" text-anchor="middle">11</text>
<text x="543.28" y="229.2" font-family="Liberation Serif, serif" font-size="4.3" font-weight="bold" fill="#222" text-anchor="middle">12</text>
<text x="554.45" y="229.2" font-family="Liberation Serif, serif" font-size="4.3" font-weight="bold" fill="#222" text-anchor="middle">13</text>
<text x="565.62" y="229.2" font-family="Liberation Serif, serif" font-size="4.3" font-weight="bold" fill="#222" text-anchor="middle">14</text>
<text x="576.79" y="229.2" font-family="Liberation Serif, serif" font-size="4.3" font-weight="bold" fill="#222" text-anchor="middle">15</text>
<text x="587.96" y="229.2" font-family="Liberation Serif, serif" font-size="4.3" font-weight="bold" fill="#222" text-anchor="middle">16</text>
<text x="599.13" y="229.2" font-family="Liberation Serif, serif" font-size="4.3" font-weight="bold" fill="#222" text-anchor="middle">17</text>
<text x="610.3000000000001" y="229.2" font-family="Liberation Serif, serif" font-size="4.3" font-weight="bold" fill="#222" text-anchor="middle">18</text>
<text x="621.47" y="229.2" font-family="Liberation Serif, serif" font-size="4.3" font-weight="bold" fill="#222" text-anchor="middle">19</text>
<text x="632.64" y="229.2" font-family="Liberation Serif, serif" font-size="4.3" font-weight="bold" fill="#222" text-anchor="middle">20</text>
<text x="643.8100000000001" y="229.2" font-family="Liberation Serif, serif" font-size="4.3" font-weight="bold" fill="#222" text-anchor="middle">21</text>
<text x="654.98" y="229.2" font-family="Liberation Serif, serif" font-size="4.3" font-weight="bold" fill="#222" text-anchor="middle">22</text>
<text x="666.1500000000001" y="229.2" font-family="Liberation Serif, serif" font-size="4.3" font-weight="bold" fill="#222" text-anchor="middle">23</text>
<text x="587.2" y="233.8" font-family="Liberation Serif, serif" font-size="4.0" font-weight="bold" fill="#222" text-anchor="middle">Pitch</text>
<line x1="496.9" y1="184.5" x2="496.9" y2="189.2" stroke="#848e9c" stroke-width="0.45"/>
<line x1="496.9" y1="197.0" x2="496.9" y2="204.8" stroke="#848e9c" stroke-width="0.45"/>
<line x1="495.6" y1="184.5" x2="498.2" y2="184.5" stroke="#848e9c" stroke-width="0.4"/>
<line x1="495.6" y1="204.8" x2="498.2" y2="204.8" stroke="#848e9c" stroke-width="0.4"/>
<rect x="495.4" y="189.2" width="3" height="7.8" fill="#ffffff" fill-opacity="0.7" stroke="#8aa0b8" stroke-width="0.5"/>
<line x1="495.4" y1="193.1" x2="498.4" y2="193.1" stroke="#8aa0b8" stroke-width="0.5"/>
<line x1="500.3" y1="194.6" x2="500.3" y2="199.3" stroke="#ba9a92" stroke-width="0.45"/>
<line x1="500.3" y1="207.1" x2="500.3" y2="207.9" stroke="#ba9a92" stroke-width="0.45"/>
<line x1="499.0" y1="194.6" x2="501.6" y2="194.6" stroke="#ba9a92" stroke-width="0.4"/>
<line x1="499.0" y1="207.9" x2="501.6" y2="207.9" stroke="#ba9a92" stroke-width="0.4"/>
<rect x="498.8" y="199.3" width="3" height="7.8" fill="#ffffff" fill-opacity="0.7" stroke="#cf9c90" stroke-width="0.5"/>
<line x1="498.8" y1="203.2" x2="501.8" y2="203.2" stroke="#cf9c90" stroke-width="0.5"/>
<line x1="508.1" y1="179.8" x2="508.1" y2="189.9" stroke="#34405c" stroke-width="0.45" stroke-dasharray="1.2,0.8"/>
<line x1="508.1" y1="197.7" x2="508.1" y2="207.1" stroke="#34405c" stroke-width="0.45" stroke-dasharray="1.2,0.8"/>
<line x1="506.8" y1="179.8" x2="509.4" y2="179.8" stroke="#34405c" stroke-width="0.4"/>
<line x1="506.8" y1="207.1" x2="509.4" y2="207.1" stroke="#34405c" stroke-width="0.4"/>
<rect x="506.6" y="189.9" width="3" height="7.8" fill="#ffffff" fill-opacity="0.7" stroke="#8aa0b8" stroke-width="0.5"/>
<line x1="506.6" y1="193.8" x2="509.6" y2="193.8" stroke="#8aa0b8" stroke-width="0.5"/>
<line x1="511.5" y1="182.9" x2="511.5" y2="192.3" stroke="#ba9a92" stroke-width="0.45"/>
<line x1="511.5" y1="198.5" x2="511.5" y2="206.3" stroke="#ba9a92" stroke-width="0.45"/>
<line x1="510.2" y1="182.9" x2="512.8" y2="182.9" stroke="#ba9a92" stroke-width="0.4"/>
<line x1="510.2" y1="206.3" x2="512.8" y2="206.3" stroke="#ba9a92" stroke-width="0.4"/>
<rect x="510.0" y="192.3" width="3" height="6.2" fill="#ffffff" fill-opacity="0.7" stroke="#cf9c90" stroke-width="0.5"/>
<line x1="510.0" y1="195.4" x2="513.0" y2="195.4" stroke="#cf9c90" stroke-width="0.5"/>
<line x1="519.2" y1="186.8" x2="519.2" y2="196.2" stroke="#848e9c" stroke-width="0.45"/>
<line x1="519.2" y1="204.8" x2="519.2" y2="217.2" stroke="#848e9c" stroke-width="0.45"/>
<line x1="517.9" y1="186.8" x2="520.5" y2="186.8" stroke="#848e9c" stroke-width="0.4"/>
<line x1="517.9" y1="217.2" x2="520.5" y2="217.2" stroke="#848e9c" stroke-width="0.4"/>
<rect x="517.7" y="196.2" width="3" height="8.6" fill="#ffffff" fill-opacity="0.7" stroke="#8aa0b8" stroke-width="0.5"/>
<line x1="517.7" y1="200.5" x2="520.7" y2="200.5" stroke="#8aa0b8" stroke-width="0.5"/>
<line x1="522.6" y1="186.8" x2="522.6" y2="194.6" stroke="#ba9a92" stroke-width="0.45"/>
<line x1="522.6" y1="199.3" x2="522.6" y2="208.7" stroke="#ba9a92" stroke-width="0.45"/>
<line x1="521.3" y1="186.8" x2="523.9" y2="186.8" stroke="#ba9a92" stroke-width="0.4"/>
<line x1="521.3" y1="208.7" x2="523.9" y2="208.7" stroke="#ba9a92" stroke-width="0.4"/>
<rect x="521.1" y="194.6" width="3" height="4.7" fill="#ffffff" fill-opacity="0.7" stroke="#cf9c90" stroke-width="0.5"/>
<line x1="521.1" y1="197.0" x2="524.1" y2="197.0" stroke="#cf9c90" stroke-width="0.5"/>
<line x1="530.4" y1="175.1" x2="530.4" y2="186.8" stroke="#848e9c" stroke-width="0.45"/>
<line x1="530.4" y1="194.6" x2="530.4" y2="203.2" stroke="#848e9c" stroke-width="0.45"/>
<line x1="529.1" y1="175.1" x2="531.7" y2="175.1" stroke="#848e9c" stroke-width="0.4"/>
<line x1="529.1" y1="203.2" x2="531.7" y2="203.2" stroke="#848e9c" stroke-width="0.4"/>
<rect x="528.9" y="186.8" width="3" height="7.8" fill="#ffffff" fill-opacity="0.7" stroke="#8aa0b8" stroke-width="0.5"/>
<line x1="528.9" y1="190.7" x2="531.9" y2="190.7" stroke="#8aa0b8" stroke-width="0.5"/>
<line x1="533.8" y1="185.3" x2="533.8" y2="194.6" stroke="#ba9a92" stroke-width="0.45"/>
<line x1="533.8" y1="201.6" x2="533.8" y2="210.2" stroke="#ba9a92" stroke-width="0.45"/>
<line x1="532.5" y1="185.3" x2="535.1" y2="185.3" stroke="#ba9a92" stroke-width="0.4"/>
<line x1="532.5" y1="210.2" x2="535.1" y2="210.2" stroke="#ba9a92" stroke-width="0.4"/>
<rect x="532.3" y="194.6" width="3" height="7.0" fill="#ffffff" fill-opacity="0.7" stroke="#cf9c90" stroke-width="0.5"/>
<line x1="532.3" y1="198.1" x2="535.3" y2="198.1" stroke="#cf9c90" stroke-width="0.5"/>
<line x1="541.6" y1="182.1" x2="541.6" y2="193.1" stroke="#848e9c" stroke-width="0.45"/>
<line x1="541.6" y1="201.2" x2="541.6" y2="212.6" stroke="#848e9c" stroke-width="0.45"/>
<line x1="540.3" y1="182.1" x2="542.9" y2="182.1" stroke="#848e9c" stroke-width="0.4"/>
<line x1="540.3" y1="212.6" x2="542.9" y2="212.6" stroke="#848e9c" stroke-width="0.4"/>
<rect x="540.1" y="193.1" width="3" height="8.2" fill="#ffffff" fill-opacity="0.7" stroke="#8aa0b8" stroke-width="0.5"/>
<line x1="540.1" y1="197.2" x2="543.1" y2="197.2" stroke="#8aa0b8" stroke-width="0.5"/>
<line x1="545.0" y1="179.8" x2="545.0" y2="189.2" stroke="#ba9a92" stroke-width="0.45"/>
<line x1="545.0" y1="197.7" x2="545.0" y2="206.3" stroke="#ba9a92" stroke-width="0.45"/>
<line x1="543.7" y1="179.8" x2="546.3" y2="179.8" stroke="#ba9a92" stroke-width="0.4"/>
<line x1="543.7" y1="206.3" x2="546.3" y2="206.3" stroke="#ba9a92" stroke-width="0.4"/>
<rect x="543.5" y="189.2" width="3" height="8.6" fill="#ffffff" fill-opacity="0.7" stroke="#cf9c90" stroke-width="0.5"/>
<line x1="543.5" y1="193.5" x2="546.5" y2="193.5" stroke="#cf9c90" stroke-width="0.5"/>
<line x1="552.8" y1="172.0" x2="552.8" y2="184.5" stroke="#848e9c" stroke-width="0.45"/>
<line x1="552.8" y1="194.6" x2="552.8" y2="204.8" stroke="#848e9c" stroke-width="0.45"/>
<line x1="551.5" y1="172.0" x2="554.0" y2="172.0" stroke="#848e9c" stroke-width="0.4"/>
<line x1="551.5" y1="204.8" x2="554.0" y2="204.8" stroke="#848e9c" stroke-width="0.4"/>
<rect x="551.2" y="184.5" width="3" height="10.1" fill="#ffffff" fill-opacity="0.7" stroke="#8aa0b8" stroke-width="0.5"/>
<line x1="551.2" y1="189.6" x2="554.2" y2="189.6" stroke="#8aa0b8" stroke-width="0.5"/>
<line x1="556.2" y1="178.2" x2="556.2" y2="189.9" stroke="#ba9a92" stroke-width="0.45"/>
<line x1="556.2" y1="197.0" x2="556.2" y2="207.1" stroke="#ba9a92" stroke-width="0.45"/>
<line x1="554.9" y1="178.2" x2="557.5" y2="178.2" stroke="#ba9a92" stroke-width="0.4"/>
<line x1="554.9" y1="207.1" x2="557.5" y2="207.1" stroke="#ba9a92" stroke-width="0.4"/>
<rect x="554.7" y="189.9" width="3" height="7.0" fill="#ffffff" fill-opacity="0.7" stroke="#cf9c90" stroke-width="0.5"/>
<line x1="554.7" y1="193.5" x2="557.7" y2="193.5" stroke="#cf9c90" stroke-width="0.5"/>
<line x1="563.9" y1="175.9" x2="563.9" y2="187.6" stroke="#34405c" stroke-width="0.45" stroke-dasharray="1.2,0.8"/>
<line x1="563.9" y1="197.7" x2="563.9" y2="209.4" stroke="#34405c" stroke-width="0.45" stroke-dasharray="1.2,0.8"/>
<line x1="562.6" y1="175.9" x2="565.2" y2="175.9" stroke="#34405c" stroke-width="0.4"/>
<line x1="562.6" y1="209.4" x2="565.2" y2="209.4" stroke="#34405c" stroke-width="0.4"/>
<rect x="562.4" y="187.6" width="3" height="10.1" fill="#ffffff" fill-opacity="0.7" stroke="#8aa0b8" stroke-width="0.5"/>
<line x1="562.4" y1="192.7" x2="565.4" y2="192.7" stroke="#8aa0b8" stroke-width="0.5"/>
<line x1="567.3" y1="179.0" x2="567.3" y2="190.7" stroke="#ba9a92" stroke-width="0.45"/>
<line x1="567.3" y1="197.7" x2="567.3" y2="209.4" stroke="#ba9a92" stroke-width="0.45"/>
<line x1="566.0" y1="179.0" x2="568.6" y2="179.0" stroke="#ba9a92" stroke-width="0.4"/>
<line x1="566.0" y1="209.4" x2="568.6" y2="209.4" stroke="#ba9a92" stroke-width="0.4"/>
<rect x="565.8" y="190.7" width="3" height="7.0" fill="#ffffff" fill-opacity="0.7" stroke="#cf9c90" stroke-width="0.5"/>
<line x1="565.8" y1="194.2" x2="568.8" y2="194.2" stroke="#cf9c90" stroke-width="0.5"/>
<line x1="575.1" y1="172.0" x2="575.1" y2="185.3" stroke="#848e9c" stroke-width="0.45"/>
<line x1="575.1" y1="194.6" x2="575.1" y2="207.1" stroke="#848e9c" stroke-width="0.45"/>
<line x1="573.8" y1="172.0" x2="576.4" y2="172.0" stroke="#848e9c" stroke-width="0.4"/>
<line x1="573.8" y1="207.1" x2="576.4" y2="207.1" stroke="#848e9c" stroke-width="0.4"/>
<rect x="573.6" y="185.3" width="3" height="9.4" fill="#ffffff" fill-opacity="0.7" stroke="#8aa0b8" stroke-width="0.5"/>
<line x1="573.6" y1="189.9" x2="576.6" y2="189.9" stroke="#8aa0b8" stroke-width="0.5"/>
<line x1="578.5" y1="175.1" x2="578.5" y2="187.6" stroke="#ba9a92" stroke-width="0.45"/>
<line x1="578.5" y1="194.6" x2="578.5" y2="206.3" stroke="#ba9a92" stroke-width="0.45"/>
<line x1="577.2" y1="175.1" x2="579.8" y2="175.1" stroke="#ba9a92" stroke-width="0.4"/>
<line x1="577.2" y1="206.3" x2="579.8" y2="206.3" stroke="#ba9a92" stroke-width="0.4"/>
<rect x="577.0" y="187.6" width="3" height="7.0" fill="#ffffff" fill-opacity="0.7" stroke="#cf9c90" stroke-width="0.5"/>
<line x1="577.0" y1="191.1" x2="580.0" y2="191.1" stroke="#cf9c90" stroke-width="0.5"/>
<line x1="586.3" y1="170.4" x2="586.3" y2="182.9" stroke="#848e9c" stroke-width="0.45"/>
<line x1="586.3" y1="190.7" x2="586.3" y2="202.4" stroke="#848e9c" stroke-width="0.45"/>
<line x1="585.0" y1="170.4" x2="587.6" y2="170.4" stroke="#848e9c" stroke-width="0.4"/>
<line x1="585.0" y1="202.4" x2="587.6" y2="202.4" stroke="#848e9c" stroke-width="0.4"/>
<rect x="584.8" y="182.9" width="3" height="7.8" fill="#ffffff" fill-opacity="0.7" stroke="#8aa0b8" stroke-width="0.5"/>
<line x1="584.8" y1="186.8" x2="587.8" y2="186.8" stroke="#8aa0b8" stroke-width="0.5"/>
<line x1="589.7" y1="175.9" x2="589.7" y2="188.4" stroke="#ba9a92" stroke-width="0.45"/>
<line x1="589.7" y1="197.0" x2="589.7" y2="208.7" stroke="#ba9a92" stroke-width="0.45"/>
<line x1="588.4" y1="175.9" x2="591.0" y2="175.9" stroke="#ba9a92" stroke-width="0.4"/>
<line x1="588.4" y1="208.7" x2="591.0" y2="208.7" stroke="#ba9a92" stroke-width="0.4"/>
<rect x="588.2" y="188.4" width="3" height="8.6" fill="#ffffff" fill-opacity="0.7" stroke="#cf9c90" stroke-width="0.5"/>
<line x1="588.2" y1="192.7" x2="591.2" y2="192.7" stroke="#cf9c90" stroke-width="0.5"/>
<line x1="597.4" y1="164.2" x2="597.4" y2="179.0" stroke="#848e9c" stroke-width="0.45"/>
<line x1="597.4" y1="186.8" x2="597.4" y2="199.3" stroke="#848e9c" stroke-width="0.45"/>
<line x1="596.1" y1="164.2" x2="598.7" y2="164.2" stroke="#848e9c" stroke-width="0.4"/>
<line x1="596.1" y1="199.3" x2="598.7" y2="199.3" stroke="#848e9c" stroke-width="0.4"/>
<rect x="595.9" y="179.0" width="3" height="7.8" fill="#ffffff" fill-opacity="0.7" stroke="#8aa0b8" stroke-width="0.5"/>
<line x1="595.9" y1="182.9" x2="598.9" y2="182.9" stroke="#8aa0b8" stroke-width="0.5"/>
<line x1="600.8" y1="174.3" x2="600.8" y2="186.0" stroke="#ba9a92" stroke-width="0.45"/>
<line x1="600.8" y1="193.8" x2="600.8" y2="210.2" stroke="#ba9a92" stroke-width="0.45"/>
<line x1="599.5" y1="174.3" x2="602.1" y2="174.3" stroke="#ba9a92" stroke-width="0.4"/>
<line x1="599.5" y1="210.2" x2="602.1" y2="210.2" stroke="#ba9a92" stroke-width="0.4"/>
<rect x="599.3" y="186.0" width="3" height="7.8" fill="#ffffff" fill-opacity="0.7" stroke="#cf9c90" stroke-width="0.5"/>
<line x1="599.3" y1="189.9" x2="602.3" y2="189.9" stroke="#cf9c90" stroke-width="0.5"/>
<line x1="608.6" y1="165.0" x2="608.6" y2="177.5" stroke="#848e9c" stroke-width="0.45"/>
<line x1="608.6" y1="186.0" x2="608.6" y2="197.4" stroke="#848e9c" stroke-width="0.45"/>
<line x1="607.3" y1="165.0" x2="609.9" y2="165.0" stroke="#848e9c" stroke-width="0.4"/>
<line x1="607.3" y1="197.4" x2="609.9" y2="197.4" stroke="#848e9c" stroke-width="0.4"/>
<rect x="607.1" y="177.5" width="3" height="8.6" fill="#ffffff" fill-opacity="0.7" stroke="#8aa0b8" stroke-width="0.5"/>
<line x1="607.1" y1="181.8" x2="610.1" y2="181.8" stroke="#8aa0b8" stroke-width="0.5"/>
<line x1="612.0" y1="175.9" x2="612.0" y2="188.4" stroke="#ba9a92" stroke-width="0.45"/>
<line x1="612.0" y1="195.4" x2="612.0" y2="207.9" stroke="#ba9a92" stroke-width="0.45"/>
<line x1="610.7" y1="175.9" x2="613.3" y2="175.9" stroke="#ba9a92" stroke-width="0.4"/>
<line x1="610.7" y1="207.9" x2="613.3" y2="207.9" stroke="#ba9a92" stroke-width="0.4"/>
<rect x="610.5" y="188.4" width="3" height="7.0" fill="#ffffff" fill-opacity="0.7" stroke="#cf9c90" stroke-width="0.5"/>
<line x1="610.5" y1="191.9" x2="613.5" y2="191.9" stroke="#cf9c90" stroke-width="0.5"/>
<line x1="619.8" y1="154.1" x2="619.8" y2="172.0" stroke="#34405c" stroke-width="0.45" stroke-dasharray="1.2,0.8"/>
<line x1="619.8" y1="179.0" x2="619.8" y2="189.9" stroke="#34405c" stroke-width="0.45" stroke-dasharray="1.2,0.8"/>
<line x1="618.5" y1="154.1" x2="621.1" y2="154.1" stroke="#34405c" stroke-width="0.4"/>
<line x1="618.5" y1="189.9" x2="621.1" y2="189.9" stroke="#34405c" stroke-width="0.4"/>
<rect x="618.3" y="172.0" width="3" height="7.0" fill="#ffffff" fill-opacity="0.7" stroke="#8aa0b8" stroke-width="0.5"/>
<line x1="618.3" y1="175.5" x2="621.3" y2="175.5" stroke="#8aa0b8" stroke-width="0.5"/>
<line x1="623.2" y1="175.9" x2="623.2" y2="186.8" stroke="#ba9a92" stroke-width="0.45"/>
<line x1="623.2" y1="195.4" x2="623.2" y2="207.9" stroke="#ba9a92" stroke-width="0.45"/>
<line x1="621.9" y1="175.9" x2="624.5" y2="175.9" stroke="#ba9a92" stroke-width="0.4"/>
<line x1="621.9" y1="207.9" x2="624.5" y2="207.9" stroke="#ba9a92" stroke-width="0.4"/>
<rect x="621.7" y="186.8" width="3" height="8.6" fill="#ffffff" fill-opacity="0.7" stroke="#cf9c90" stroke-width="0.5"/>
<line x1="621.7" y1="191.1" x2="624.7" y2="191.1" stroke="#cf9c90" stroke-width="0.5"/>
<line x1="630.9" y1="164.2" x2="630.9" y2="175.9" stroke="#848e9c" stroke-width="0.45"/>
<line x1="630.9" y1="184.9" x2="630.9" y2="195.4" stroke="#848e9c" stroke-width="0.45"/>
<line x1="629.6" y1="164.2" x2="632.2" y2="164.2" stroke="#848e9c" stroke-width="0.4"/>
<line x1="629.6" y1="195.4" x2="632.2" y2="195.4" stroke="#848e9c" stroke-width="0.4"/>
<rect x="629.4" y="175.9" width="3" height="9.0" fill="#ffffff" fill-opacity="0.7" stroke="#8aa0b8" stroke-width="0.5"/>
<line x1="629.4" y1="180.4" x2="632.4" y2="180.4" stroke="#8aa0b8" stroke-width="0.5"/>
<line x1="634.3" y1="174.3" x2="634.3" y2="184.9" stroke="#ba9a92" stroke-width="0.45"/>
<line x1="634.3" y1="193.1" x2="634.3" y2="206.3" stroke="#ba9a92" stroke-width="0.45"/>
<line x1="633.0" y1="174.3" x2="635.6" y2="174.3" stroke="#ba9a92" stroke-width="0.4"/>
<line x1="633.0" y1="206.3" x2="635.6" y2="206.3" stroke="#ba9a92" stroke-width="0.4"/>
<rect x="632.8" y="184.9" width="3" height="8.2" fill="#ffffff" fill-opacity="0.7" stroke="#cf9c90" stroke-width="0.5"/>
<line x1="632.8" y1="189.0" x2="635.8" y2="189.0" stroke="#cf9c90" stroke-width="0.5"/>
<line x1="642.1" y1="152.5" x2="642.1" y2="167.3" stroke="#34405c" stroke-width="0.45" stroke-dasharray="1.2,0.8"/>
<line x1="642.1" y1="175.1" x2="642.1" y2="186.8" stroke="#34405c" stroke-width="0.45" stroke-dasharray="1.2,0.8"/>
<line x1="640.8" y1="152.5" x2="643.4" y2="152.5" stroke="#34405c" stroke-width="0.4"/>
<line x1="640.8" y1="186.8" x2="643.4" y2="186.8" stroke="#34405c" stroke-width="0.4"/>
<rect x="640.6" y="167.3" width="3" height="7.8" fill="#ffffff" fill-opacity="0.7" stroke="#8aa0b8" stroke-width="0.5"/>
<line x1="640.6" y1="171.2" x2="643.6" y2="171.2" stroke="#8aa0b8" stroke-width="0.5"/>
<line x1="645.5" y1="174.3" x2="645.5" y2="184.9" stroke="#ba9a92" stroke-width="0.45"/>
<line x1="645.5" y1="193.8" x2="645.5" y2="207.1" stroke="#ba9a92" stroke-width="0.45"/>
<line x1="644.2" y1="174.3" x2="646.8" y2="174.3" stroke="#ba9a92" stroke-width="0.4"/>
<line x1="644.2" y1="207.1" x2="646.8" y2="207.1" stroke="#ba9a92" stroke-width="0.4"/>
<rect x="644.0" y="184.9" width="3" height="9.0" fill="#ffffff" fill-opacity="0.7" stroke="#cf9c90" stroke-width="0.5"/>
<line x1="644.0" y1="189.4" x2="647.0" y2="189.4" stroke="#cf9c90" stroke-width="0.5"/>
<line x1="653.3" y1="165.0" x2="653.3" y2="174.3" stroke="#848e9c" stroke-width="0.45"/>
<line x1="653.3" y1="182.1" x2="653.3" y2="193.8" stroke="#848e9c" stroke-width="0.45"/>
<line x1="652.0" y1="165.0" x2="654.6" y2="165.0" stroke="#848e9c" stroke-width="0.4"/>
<line x1="652.0" y1="193.8" x2="654.6" y2="193.8" stroke="#848e9c" stroke-width="0.4"/>
<rect x="651.8" y="174.3" width="3" height="7.8" fill="#ffffff" fill-opacity="0.7" stroke="#8aa0b8" stroke-width="0.5"/>
<line x1="651.8" y1="178.2" x2="654.8" y2="178.2" stroke="#8aa0b8" stroke-width="0.5"/>
<line x1="656.7" y1="172.0" x2="656.7" y2="182.1" stroke="#ba9a92" stroke-width="0.45"/>
<line x1="656.7" y1="189.9" x2="656.7" y2="199.3" stroke="#ba9a92" stroke-width="0.45"/>
<line x1="655.4" y1="172.0" x2="658.0" y2="172.0" stroke="#ba9a92" stroke-width="0.4"/>
<line x1="655.4" y1="199.3" x2="658.0" y2="199.3" stroke="#ba9a92" stroke-width="0.4"/>
<rect x="655.2" y="182.1" width="3" height="7.8" fill="#ffffff" fill-opacity="0.7" stroke="#cf9c90" stroke-width="0.5"/>
<line x1="655.2" y1="186.0" x2="658.2" y2="186.0" stroke="#cf9c90" stroke-width="0.5"/>
<line x1="664.5" y1="149.4" x2="664.5" y2="163.4" stroke="#848e9c" stroke-width="0.45"/>
<line x1="664.5" y1="172.8" x2="664.5" y2="184.9" stroke="#848e9c" stroke-width="0.45"/>
<line x1="663.2" y1="149.4" x2="665.8" y2="149.4" stroke="#848e9c" stroke-width="0.4"/>
<line x1="663.2" y1="184.9" x2="665.8" y2="184.9" stroke="#848e9c" stroke-width="0.4"/>
<rect x="663.0" y="163.4" width="3" height="9.4" fill="#ffffff" fill-opacity="0.7" stroke="#8aa0b8" stroke-width="0.5"/>
<line x1="663.0" y1="168.1" x2="666.0" y2="168.1" stroke="#8aa0b8" stroke-width="0.5"/>
<line x1="667.9" y1="170.4" x2="667.9" y2="181.4" stroke="#ba9a92" stroke-width="0.45"/>
<line x1="667.9" y1="189.9" x2="667.9" y2="200.9" stroke="#ba9a92" stroke-width="0.45"/>
<line x1="666.6" y1="170.4" x2="669.2" y2="170.4" stroke="#ba9a92" stroke-width="0.4"/>
<line x1="666.6" y1="200.9" x2="669.2" y2="200.9" stroke="#ba9a92" stroke-width="0.4"/>
<rect x="666.4" y="181.4" width="3" height="8.6" fill="#ffffff" fill-opacity="0.7" stroke="#cf9c90" stroke-width="0.5"/>
<line x1="666.4" y1="185.7" x2="669.4" y2="185.7" stroke="#cf9c90" stroke-width="0.5"/>
<polyline points="496.9,193.1 508.1,193.8 519.2,200.5 530.4,190.7 541.6,197.2 552.8,189.6 563.9,192.7 575.1,189.9 586.3,186.8 597.4,182.9 608.6,181.8 619.8,175.5 630.9,180.4 642.1,171.2 653.3,178.2 664.5,168.1" fill="none" stroke="#5f86a6" stroke-width="0.55" stroke-dasharray="1.8,0.8"/>
<polyline points="500.3,203.2 511.5,195.4 522.6,197.0 533.8,198.1 545.0,193.5 556.2,193.5 567.3,194.2 578.5,191.1 589.7,192.7 600.8,189.9 612.0,191.9 623.2,191.1 634.3,189.0 645.5,189.4 656.7,186.0 667.9,185.7" fill="none" stroke="#cf7a6a" stroke-width="0.55" stroke-dasharray="1.8,0.8"/>
</svg>
</body></html>
